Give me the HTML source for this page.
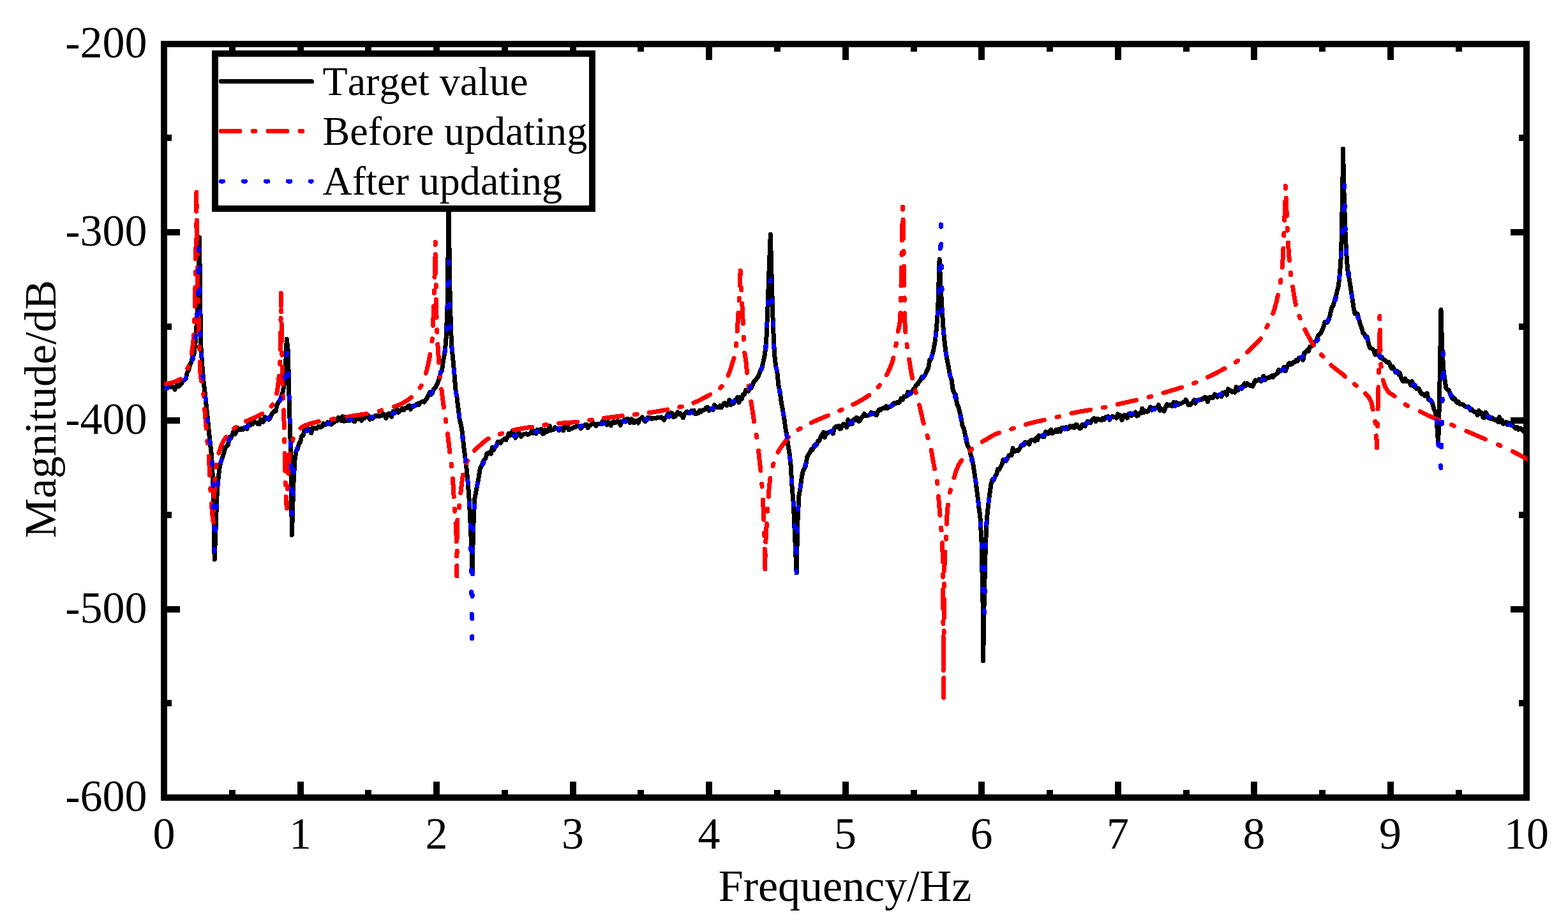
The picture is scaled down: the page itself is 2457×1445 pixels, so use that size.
<!DOCTYPE html>
<html lang="en">
<head>
<meta charset="utf-8">
<title>Magnitude/dB vs Frequency/Hz</title>
<style>
html,body{margin:0;padding:0;background:#fff;}
body{width:2457px;height:1445px;overflow:hidden;}
svg{display:block;}
text{font-family:"Liberation Serif","Times New Roman",Times,serif;font-size:70px;fill:#000;font-kerning:none;}
.lg text{font-size:64.1px;}
.c{fill:none;stroke-width:7;stroke-linecap:round;stroke-linejoin:round;}
</style>
</head>
<body>
<svg width="2457" height="1445" viewBox="0 0 2457 1445">
<defs><clipPath id="cp"><rect x="257" y="60" width="2136.5" height="1200"/></clipPath></defs>
<rect x="0" y="0" width="2457" height="1445" fill="#fff"/>
<g shape-rendering="crispEdges" fill="#000">
<path fill-rule="evenodd" d="M252 64H2397V1255H252Z M262 74V1245H2387V74Z"/>
<rect x="359" y="1238" width="10" height="8"/>
<rect x="359" y="73" width="10" height="8"/>
<rect x="466" y="1225" width="10" height="21"/>
<rect x="466" y="73" width="10" height="21"/>
<rect x="572" y="1238" width="10" height="8"/>
<rect x="572" y="73" width="10" height="8"/>
<rect x="679" y="1225" width="10" height="21"/>
<rect x="679" y="73" width="10" height="21"/>
<rect x="786" y="1238" width="10" height="8"/>
<rect x="786" y="73" width="10" height="8"/>
<rect x="893" y="1225" width="10" height="21"/>
<rect x="893" y="73" width="10" height="21"/>
<rect x="999" y="1238" width="10" height="8"/>
<rect x="999" y="73" width="10" height="8"/>
<rect x="1106" y="1225" width="10" height="21"/>
<rect x="1106" y="73" width="10" height="21"/>
<rect x="1213" y="1238" width="10" height="8"/>
<rect x="1213" y="73" width="10" height="8"/>
<rect x="1320" y="1225" width="10" height="21"/>
<rect x="1320" y="73" width="10" height="21"/>
<rect x="1427" y="1238" width="10" height="8"/>
<rect x="1427" y="73" width="10" height="8"/>
<rect x="1533" y="1225" width="10" height="21"/>
<rect x="1533" y="73" width="10" height="21"/>
<rect x="1640" y="1238" width="10" height="8"/>
<rect x="1640" y="73" width="10" height="8"/>
<rect x="1747" y="1225" width="10" height="21"/>
<rect x="1747" y="73" width="10" height="21"/>
<rect x="1854" y="1238" width="10" height="8"/>
<rect x="1854" y="73" width="10" height="8"/>
<rect x="1960" y="1225" width="10" height="21"/>
<rect x="1960" y="73" width="10" height="21"/>
<rect x="2067" y="1238" width="10" height="8"/>
<rect x="2067" y="73" width="10" height="8"/>
<rect x="2174" y="1225" width="10" height="21"/>
<rect x="2174" y="73" width="10" height="21"/>
<rect x="2281" y="1238" width="10" height="8"/>
<rect x="2281" y="73" width="10" height="8"/>
<rect x="261" y="211" width="8" height="10"/>
<rect x="2380" y="211" width="8" height="10"/>
<rect x="261" y="359" width="21" height="10"/>
<rect x="2367" y="359" width="21" height="10"/>
<rect x="261" y="507" width="8" height="10"/>
<rect x="2380" y="507" width="8" height="10"/>
<rect x="261" y="654" width="21" height="10"/>
<rect x="2367" y="654" width="21" height="10"/>
<rect x="261" y="802" width="8" height="10"/>
<rect x="2380" y="802" width="8" height="10"/>
<rect x="261" y="950" width="21" height="10"/>
<rect x="2367" y="950" width="21" height="10"/>
<rect x="261" y="1097" width="8" height="10"/>
<rect x="2380" y="1097" width="8" height="10"/>
</g>
<g>
<text x="257" y="1329.5" text-anchor="middle">0</text>
<text x="470.5" y="1329.5" text-anchor="middle">1</text>
<text x="684" y="1329.5" text-anchor="middle">2</text>
<text x="897.5" y="1329.5" text-anchor="middle">3</text>
<text x="1111" y="1329.5" text-anchor="middle">4</text>
<text x="1324.5" y="1329.5" text-anchor="middle">5</text>
<text x="1538" y="1329.5" text-anchor="middle">6</text>
<text x="1751.5" y="1329.5" text-anchor="middle">7</text>
<text x="1965" y="1329.5" text-anchor="middle">8</text>
<text x="2178.5" y="1329.5" text-anchor="middle">9</text>
<text x="2392" y="1329.5" text-anchor="middle">10</text>
<text x="230.5" y="89.7" text-anchor="end">-200</text>
<text x="230.5" y="384.9" text-anchor="end">-300</text>
<text x="230.5" y="680.2" text-anchor="end">-400</text>
<text x="230.5" y="975.5" text-anchor="end">-500</text>
<text x="230.5" y="1270.7" text-anchor="end">-600</text>
<text x="1324" y="1412" text-anchor="middle">Frequency/Hz</text>
<text transform="translate(87 641) rotate(-90)" text-anchor="middle">Magnitude/dB</text>
</g>
<g clip-path="url(#cp)" shape-rendering="crispEdges">
<path class="c" stroke="#000" d="M257 608.3 L259.1 608.3 L261.3 609 L263.4 607.4 L265.5 605.7 L267.7 606.6 L269.8 605 L271.9 607.4 L274.1 610.4 L276.2 605 L278.4 603.6 L280.5 605.3 L282.6 603.4 L284.8 600.9 L286.9 596.2 L289 595.9 L291.2 593.8 L293.3 583.7 L295.4 580.9 L297.6 572 L299.7 567.8 L301.8 559.3 L304 554.8 L306.1 536.8 L308.2 508.5 L310.4 459.6 L312.5 372 L314.6 538.7 L316.8 572.6 L318.9 597.8 L321.1 615.1 L323.2 635.2 L325.3 654.6 L327.5 678.1 L329.6 696.6 L331.7 715.5 L333.9 757.9 L336.2 877 L338.1 826.9 L340.3 769.3 L342.4 746.7 L344.5 730.1 L346.7 722.3 L348.8 716 L350.9 709.7 L353.1 701 L355.2 699.4 L357.3 697.5 L359.5 685.1 L361.6 687.3 L363.8 681.7 L365.9 676.4 L368 680.9 L370.2 676.4 L372.3 670.5 L374.4 673.1 L376.6 673.9 L378.7 671.4 L380.8 673 L383 670.2 L385.1 671.1 L387.2 672.1 L389.4 665.4 L391.5 666.7 L393.6 664 L395.8 664.8 L397.9 660.8 L400 661.9 L402.2 662.4 L404.3 664.7 L406.4 664.8 L408.6 657.7 L410.7 658.3 L412.9 661.2 L415 653.4 L417.1 656.2 L419.3 655.8 L421.4 657.6 L423.5 654.2 L425.7 649.3 L427.8 646.7 L429.9 643.9 L432.1 644.3 L434.2 634.4 L436.3 630.2 L438.5 627.8 L440.6 622.1 L442.7 615.9 L444.9 604.7 L447 586.4 L449.3 531.5 L451.3 550.2 L453.4 636.5 L455.6 705.9 L457.4 838.5 L459.8 760.1 L462 720.5 L464.1 706.6 L466.2 703.8 L468.4 695.8 L470.5 693 L472.6 683.4 L474.8 683.1 L476.9 674.2 L479 671.3 L481.2 674.6 L483.3 672.1 L485.4 674.1 L487.6 678.8 L489.7 670.2 L491.8 670 L494 671.4 L496.1 671.4 L498.3 668.9 L500.4 668.1 L502.5 669.7 L504.7 668.5 L506.8 663.8 L508.9 665.6 L511.1 665.3 L513.2 661.8 L515.3 664.6 L517.5 661 L519.6 665.1 L521.7 662.5 L523.9 661.5 L526 659.2 L528.1 659.8 L530.3 654.3 L532.4 656.1 L534.5 659.5 L536.7 652.7 L538.8 660.1 L541 653.1 L543.1 659.5 L545.2 655.2 L547.4 659.3 L549.5 657.5 L551.6 653.1 L553.8 660.3 L555.9 660.7 L558 656.7 L560.2 656.1 L562.3 656.3 L564.4 654.1 L566.6 659.3 L568.7 654.9 L570.8 655.8 L573 653.5 L575.1 653.4 L577.2 651.2 L579.4 657.4 L581.5 653.4 L583.7 656.1 L585.8 653.4 L587.9 651.3 L590.1 652.1 L592.2 651.4 L594.3 652.7 L596.5 651.5 L598.6 651.5 L600.7 648.5 L602.9 649.8 L605 655.9 L607.1 649.5 L609.3 648.1 L611.4 651.2 L613.5 653.2 L615.7 644.9 L617.8 647.2 L620 645 L622.1 641.1 L624.2 646.6 L626.4 643.7 L628.5 643.1 L630.6 640.1 L632.8 642.6 L634.9 639.3 L637 639.7 L639.2 636.6 L641.3 635.6 L643.4 641.6 L645.6 636.1 L647.7 637.5 L649.8 635.9 L652 634 L654.1 632.8 L656.2 634.8 L658.4 631.1 L660.5 630.1 L662.6 628.9 L664.8 630.1 L666.9 626.9 L669.1 624 L671.2 619.4 L673.3 615 L675.5 618.5 L677.6 615.7 L679.7 609.6 L681.9 607.9 L684 604.3 L686.1 599.2 L688.3 593.3 L690.4 583.2 L692.5 580.8 L694.7 563.7 L696.8 554.5 L698.9 533.5 L701.1 479.4 L703 320 L705.3 475 L707.5 540.8 L709.6 560.8 L711.8 584.3 L713.9 610.5 L716 623 L718.2 641.1 L720.3 658.1 L722.4 665.9 L724.6 678.7 L726.7 700 L728.8 716 L731 733.9 L733.1 755.4 L735.2 783.5 L737.4 826.1 L739.5 876 L740 897 L741.6 829.6 L743.8 781.3 L745.9 770.8 L748 759.6 L750.2 748.1 L752.3 734.2 L754.5 729.8 L756.6 724.9 L758.7 720.9 L760.9 718.4 L763 710.8 L765.1 710.7 L767.3 708.6 L769.4 711.4 L771.5 701 L773.7 705.2 L775.8 700.5 L777.9 698.3 L780.1 692.2 L782.2 692.8 L784.3 694.3 L786.5 690.6 L788.6 689.5 L790.8 687.2 L792.9 689.8 L795 685.7 L797.2 679.1 L799.3 682.5 L801.4 678.6 L803.6 674.9 L805.7 681.6 L807.8 686.2 L810 682.5 L812.1 679.1 L814.2 679.3 L816.4 684.3 L818.5 681.4 L820.6 680.7 L822.8 680 L824.9 679.8 L827 681.3 L829.2 680.2 L831.3 678.9 L833.4 675.2 L835.6 678.9 L837.7 675.5 L839.9 679.8 L842 673.3 L844.1 676 L846.3 676.1 L848.4 672.4 L850.5 680 L852.7 679.1 L854.8 673.8 L856.9 676.7 L859.1 675.4 L861.2 667.3 L863.3 674.4 L865.5 673.3 L867.6 673.3 L869.7 669.9 L871.9 671.7 L874 671.6 L876.1 674.8 L878.3 672.3 L880.4 671.1 L882.6 674.8 L884.7 669.1 L886.8 669.3 L889 665.4 L891.1 674 L893.2 672.2 L895.4 671.9 L897.5 671 L899.6 669.3 L901.8 669.4 L903.9 667.9 L906 667.8 L908.2 668.2 L910.3 671.7 L912.4 669 L914.6 667.2 L916.7 665.6 L918.8 665.2 L921 670.7 L923.1 667.7 L925.3 666.3 L927.4 665 L929.5 662.8 L931.7 665.3 L933.8 667.5 L935.9 664 L938.1 664.3 L940.2 664.1 L942.3 664.7 L944.5 660.1 L946.6 663.4 L948.7 661.6 L950.9 665.9 L953 661.4 L955.1 664.6 L957.3 666.9 L959.4 661.8 L961.5 660.8 L963.7 662.6 L965.8 661.9 L968 659 L970.1 662.6 L972.2 666.3 L974.4 660.2 L976.5 660.1 L978.6 657.6 L980.8 660.9 L982.9 656.6 L985 656.7 L987.2 662.6 L989.3 656.7 L991.4 661.7 L993.6 662.6 L995.7 659.1 L997.8 659.6 L1000 663.1 L1002.1 657.3 L1004.2 656 L1006.4 653.9 L1008.5 657.3 L1010.7 660.8 L1012.8 659.2 L1014.9 654.1 L1017.1 654.1 L1019.2 654.8 L1021.3 656.6 L1023.5 655.1 L1025.6 655.9 L1027.7 655.9 L1029.9 654.1 L1032 654.5 L1034.1 654.8 L1036.3 653.8 L1038.4 655 L1040.5 658.3 L1042.7 654.7 L1044.8 653 L1046.9 648.1 L1049.1 653.2 L1051.2 646.8 L1053.4 647.9 L1055.5 653.5 L1057.6 652.8 L1059.8 650.2 L1061.9 645.9 L1064 649 L1066.2 647.9 L1068.3 651 L1070.4 654.9 L1072.6 649.3 L1074.7 646.3 L1076.8 645 L1079 647.6 L1081.1 646.9 L1083.2 644 L1085.4 646.9 L1087.5 643.3 L1089.6 648.8 L1091.8 648.2 L1093.9 647.9 L1096.1 643.4 L1098.2 645.6 L1100.3 643.4 L1102.5 642.3 L1104.6 642 L1106.7 639 L1108.9 638.2 L1111 643.5 L1113.1 640.4 L1115.3 640.9 L1117.4 642.4 L1119.5 634.8 L1121.7 636.7 L1123.8 638.6 L1125.9 638.5 L1128.1 635.9 L1130.2 638.9 L1132.3 636.1 L1134.5 631.8 L1136.6 631.8 L1138.8 635.5 L1140.9 633.9 L1143 626.9 L1145.2 634.5 L1147.3 631.6 L1149.4 632.6 L1151.6 627.1 L1153.7 626.2 L1155.8 622.8 L1158 631 L1160.1 622.6 L1162.2 625.6 L1164.4 618.1 L1166.5 618.2 L1168.6 611.2 L1170.8 612.1 L1172.9 613.1 L1175 604.7 L1177.2 608.1 L1179.3 603.7 L1181.5 597.6 L1183.6 596.2 L1185.7 593.2 L1187.9 590.7 L1190 585.2 L1192.1 579.5 L1194.3 574.9 L1196.4 565.4 L1198.5 554.8 L1200.7 535.6 L1202.8 486.9 L1204.9 428.2 L1207.3 367.3 L1209.2 436.7 L1211.3 508.1 L1213.5 554.8 L1215.6 573.7 L1217.8 583.1 L1219.9 604.1 L1222 613.4 L1224.2 629.9 L1226.3 641.2 L1228.4 653 L1230.6 669.7 L1232.7 681.4 L1234.8 697.2 L1237 710.5 L1239.1 729.3 L1241.2 764.8 L1243.4 790.1 L1245.5 838.6 L1247.6 886.4 L1248.1 898 L1249.8 819.1 L1251.9 777.4 L1254 765.3 L1256.2 748.7 L1258.3 737.8 L1260.4 734.2 L1262.6 729.6 L1264.7 716.5 L1266.9 712.5 L1269 709 L1271.1 704.3 L1273.3 705.1 L1275.4 699.2 L1277.5 696.7 L1279.7 697.4 L1281.8 690.9 L1283.9 690.8 L1286.1 684.2 L1288.2 681 L1290.3 677.6 L1292.5 685.7 L1294.6 678.7 L1296.7 679.1 L1298.9 677.3 L1301 676.8 L1303.1 675.6 L1305.3 679.5 L1307.4 670.9 L1309.6 668.7 L1311.7 669.2 L1313.8 667.6 L1316 672.2 L1318.1 671.6 L1320.2 666.2 L1322.4 664.3 L1324.5 666.1 L1326.6 669.7 L1328.8 657.8 L1330.9 665.4 L1333 660.1 L1335.2 664.5 L1337.3 657.8 L1339.4 658.8 L1341.6 654.7 L1343.7 655.1 L1345.8 660.4 L1348 658.1 L1350.1 654 L1352.3 652 L1354.4 648.5 L1356.5 651.6 L1358.7 651.7 L1360.8 650.8 L1362.9 649.9 L1365.1 646.4 L1367.2 648.3 L1369.3 647.5 L1371.5 650.1 L1373.6 650.6 L1375.7 644.5 L1377.9 641.9 L1380 642.8 L1382.1 640.5 L1384.3 639.2 L1386.4 640 L1388.5 636.6 L1390.7 640 L1392.8 637.3 L1395 637.4 L1397.1 635.4 L1399.2 633.1 L1401.4 631.7 L1403.5 632.5 L1405.6 630.7 L1407.8 631.5 L1409.9 629.6 L1412 624.6 L1414.2 626.8 L1416.3 621.5 L1418.4 621.8 L1420.6 620.9 L1422.7 614.4 L1424.8 618.2 L1427 616.5 L1429.1 613.6 L1431.2 610.7 L1433.4 608.4 L1435.5 603.9 L1437.7 602.5 L1439.8 598.3 L1441.9 596.9 L1444.1 590.9 L1446.2 592.3 L1448.3 589.5 L1450.5 585.7 L1452.6 580.7 L1454.7 576.8 L1456.9 563.8 L1459 562.7 L1461.1 555.1 L1463.3 545.8 L1465.4 534 L1467.5 513.8 L1469.7 484.8 L1472.1 406.5 L1473.9 445.9 L1476.1 483.5 L1478.2 516.1 L1480.4 538.4 L1482.5 555.5 L1484.6 566.2 L1486.8 578 L1488.9 589 L1491 595.2 L1493.2 610.9 L1495.3 616.4 L1497.4 618.2 L1499.6 633.8 L1501.7 636.9 L1503.8 645.3 L1506 654.8 L1508.1 667.6 L1510.2 671.3 L1512.4 680.9 L1514.5 692.4 L1516.6 699.1 L1518.8 702.5 L1520.9 711.9 L1523.1 719.2 L1525.2 729.7 L1527.3 744 L1529.5 759.4 L1531.6 775.6 L1533.7 794 L1535.9 810 L1538 849 L1540.1 948.4 L1540.6 1036 L1542.3 933.5 L1544.4 854.7 L1546.5 812.3 L1548.7 790.3 L1550.8 774.2 L1552.9 759.2 L1555.1 751.2 L1557.2 752.3 L1559.3 746.4 L1561.5 743.6 L1563.6 735.1 L1565.8 735.5 L1567.9 731.6 L1570 727.4 L1572.2 720.2 L1574.3 721.9 L1576.4 722.5 L1578.6 718.7 L1580.7 714 L1582.8 713.5 L1585 713.5 L1587.1 702.5 L1589.2 707.4 L1591.4 707.1 L1593.5 705.5 L1595.6 706.2 L1597.8 702.9 L1599.9 699 L1602 697.5 L1604.2 697.5 L1606.3 692.9 L1608.5 693.2 L1610.6 694.7 L1612.7 696.5 L1614.9 690.1 L1617 689.5 L1619.1 689.2 L1621.3 691.3 L1623.4 686.8 L1625.5 689.8 L1627.7 682.6 L1629.8 683.7 L1631.9 682.8 L1634.1 684.5 L1636.2 684.4 L1638.3 676.8 L1640.5 677.5 L1642.6 679.8 L1644.7 676.4 L1646.9 673.3 L1649 679.1 L1651.2 677 L1653.3 676.3 L1655.4 673.2 L1657.6 676.7 L1659.7 672.9 L1661.8 676 L1664 670.4 L1666.1 670.1 L1668.2 672.4 L1670.4 669.6 L1672.5 672.6 L1674.6 671 L1676.8 667.4 L1678.9 669.4 L1681 667.7 L1683.2 670.4 L1685.3 665.7 L1687.4 665.7 L1689.6 669.5 L1691.7 671.6 L1693.9 670.5 L1696 665 L1698.1 665 L1700.3 667.9 L1702.4 663.1 L1704.5 660.3 L1706.7 662.6 L1708.8 662.8 L1710.9 658.8 L1713.1 656 L1715.2 655.8 L1717.3 660.7 L1719.5 656.4 L1721.6 657.4 L1723.7 657.9 L1725.9 658.6 L1728 655.7 L1730.1 657.6 L1732.3 653.7 L1734.4 654.7 L1736.6 652.7 L1738.7 658 L1740.8 654.6 L1743 652.5 L1745.1 653.2 L1747.2 653.2 L1749.4 655.2 L1751.5 648.9 L1753.6 650 L1755.8 651.3 L1757.9 658.4 L1760 653.8 L1762.2 650.5 L1764.3 652.1 L1766.4 655.1 L1768.6 648.6 L1770.7 647.8 L1772.8 651.5 L1775 649.3 L1777.1 649.4 L1779.3 646 L1781.4 652 L1783.5 651.1 L1785.7 647.7 L1787.8 647.6 L1789.9 640.2 L1792.1 646.6 L1794.2 643.9 L1796.3 645 L1798.5 645.1 L1800.6 641.9 L1802.7 637.9 L1804.9 642.9 L1807 639.6 L1809.1 640.4 L1811.3 639.4 L1813.4 639.9 L1815.5 634.5 L1817.7 643.5 L1819.8 640.7 L1822 642.6 L1824.1 644.5 L1826.2 639 L1828.4 633.8 L1830.5 635.7 L1832.6 634.3 L1834.8 635.6 L1836.9 636.6 L1839 630.6 L1841.2 636.2 L1843.3 630.8 L1845.4 634.9 L1847.6 633.2 L1849.7 632 L1851.8 632.1 L1854 630.3 L1856.1 629.7 L1858.2 626.5 L1860.4 630.4 L1862.5 634.9 L1864.7 634.9 L1866.8 632.9 L1868.9 631 L1871.1 627 L1873.2 632.1 L1875.3 627.8 L1877.5 627.3 L1879.6 626.3 L1881.7 626.8 L1883.9 624.9 L1886 625.3 L1888.1 622.2 L1890.3 623.5 L1892.4 629.8 L1894.5 623.2 L1896.7 622.1 L1898.8 623.5 L1900.9 623.4 L1903.1 618 L1905.2 619.8 L1907.4 622.1 L1909.5 619.7 L1911.6 618.7 L1913.8 621.8 L1915.9 615.4 L1918 616.7 L1920.2 614.5 L1922.3 619.1 L1924.4 609.5 L1926.6 612.2 L1928.7 611.9 L1930.8 614.4 L1933 613.6 L1935.1 615 L1937.2 606.6 L1939.4 611.9 L1941.5 608.5 L1943.6 606.9 L1945.8 609.3 L1947.9 604.8 L1950.1 601 L1952.2 604.7 L1954.3 601 L1956.5 602.4 L1958.6 604.3 L1960.7 603.3 L1962.9 605.8 L1965 600.3 L1967.1 596 L1969.3 597.2 L1971.4 595.9 L1973.5 594.2 L1975.7 597.6 L1977.8 593.9 L1979.9 589.5 L1982.1 595.6 L1984.2 592.5 L1986.3 592.8 L1988.5 591.1 L1990.6 591.5 L1992.8 589 L1994.9 591 L1997 587.9 L1999.2 586.7 L2001.3 585.7 L2003.4 579.7 L2005.6 581.9 L2007.7 580.5 L2009.8 580.5 L2012 575.2 L2014.1 581.7 L2016.2 576.4 L2018.4 571.7 L2020.5 569 L2022.6 571.3 L2024.8 570.4 L2026.9 567.3 L2029 567.9 L2031.2 564.4 L2033.3 565.9 L2035.5 560.9 L2037.6 560.9 L2039.7 561.8 L2041.9 564 L2044 552.7 L2046.1 551.9 L2048.3 548.7 L2050.4 550.6 L2052.5 543.3 L2054.7 542.8 L2056.8 541.8 L2058.9 537.2 L2061.1 534.9 L2063.2 533.5 L2065.3 526.3 L2067.5 524 L2069.6 521.6 L2071.8 517.8 L2073.9 512.4 L2076 504.7 L2078.2 505.1 L2080.3 505.1 L2082.4 500.2 L2084.6 491.8 L2086.7 482 L2088.8 480 L2091 472.2 L2093.1 465.2 L2095.2 456.3 L2097.4 448.2 L2099.5 427.9 L2101.6 398.4 L2103.8 295.7 L2104.5 233.3 L2105.9 298.1 L2108 363.8 L2110.2 404.9 L2112.3 427.7 L2114.4 438 L2116.6 452.4 L2118.7 465.7 L2120.9 481.6 L2123 491.4 L2125.1 491.4 L2127.3 492 L2129.4 500.9 L2131.5 507.9 L2133.7 514 L2135.8 521.9 L2137.9 523.6 L2140.1 528.9 L2142.2 528 L2144.3 537.7 L2146.5 545.4 L2148.6 545.8 L2150.7 547.4 L2152.9 549.6 L2155 556 L2157.1 550.9 L2159.3 555 L2161.4 558.3 L2163.6 561.1 L2165.7 559.9 L2167.8 563.8 L2170 564.1 L2172.1 567 L2174.2 568.2 L2176.4 567.6 L2178.5 572.7 L2180.6 577.3 L2182.8 574.9 L2184.9 579.2 L2187 583.7 L2189.2 581.2 L2191.3 586.4 L2193.4 584.9 L2195.6 592.3 L2197.7 597 L2199.8 597.9 L2202 593.6 L2204.1 597.6 L2206.3 597.5 L2208.4 598.8 L2210.5 603.8 L2212.7 597.5 L2214.8 605 L2216.9 603.6 L2219.1 609.2 L2221.2 608.5 L2223.3 609 L2225.5 614.1 L2227.6 617.5 L2229.7 617.4 L2231.9 620.1 L2234 618.9 L2236.1 616.2 L2238.3 625.9 L2240.4 627.5 L2242.5 628.7 L2244.7 632.2 L2246.8 641.1 L2249 645.1 L2251.1 656.9 L2253.2 688.5 L2253.7 694 L2255.4 632.7 L2257.5 513.7 L2258 485.3 L2259.6 541.4 L2261.8 578.5 L2263.9 594.8 L2266 609.1 L2268.2 610.9 L2270.3 611.6 L2272.4 616.8 L2274.6 622.6 L2276.7 625.6 L2278.8 623.8 L2281 628.2 L2283.1 631 L2285.2 629.2 L2287.4 633.3 L2289.5 633.7 L2291.7 633.6 L2293.8 634.8 L2295.9 637.2 L2298.1 637.9 L2300.2 637.1 L2302.3 638.2 L2304.5 643 L2306.6 641.6 L2308.7 644.2 L2310.9 646 L2313 645.3 L2315.1 650.7 L2317.3 643.6 L2319.4 648.9 L2321.5 647.1 L2323.7 653.9 L2325.8 654.6 L2327.9 646.1 L2330.1 649.6 L2332.2 654.6 L2334.4 655.7 L2336.5 656.3 L2338.6 655 L2340.8 657.2 L2342.9 658.5 L2345 657.5 L2347.2 661.2 L2349.3 653.5 L2351.4 661.9 L2353.6 658.4 L2355.7 664.4 L2357.8 662.2 L2360 661.3 L2362.1 665.4 L2364.2 662.8 L2366.4 663.6 L2368.5 662.7 L2370.6 667.5 L2372.8 669.6 L2374.9 671.7 L2377.1 669.4 L2379.2 673.2 L2381.3 671.3 L2383.5 671.7 L2385.6 674.2 L2387.7 676.2 L2389.9 673.4 L2392 674.4 L2394 675.7"/>
<path class="c" stroke="#f00" stroke-width="7.4" stroke-dasharray="30.26 20.17 3.93 20.17" stroke-dashoffset="3.23" d="M257 601.6 L258 601.6 L259 601.6 L260 601.5 L261 601.4 L262 601.3 L263 601.2 L264 601 L265 600.8 L266 600.6 L267 600.4 L268 600.2 L269 599.9 L270 599.6 L271 599.3 L272 598.9 L273 598.6 L274 598.2 L275 597.8 L276 597.4 L277 597 L278 596.5 L279 596 L280 595.5 L281 595 L282 594.5 L283 593.9 L284 593.4 L284.6 593 L285 592.7 L286 591.9 L287 590.8 L288 589.4 L289 587.8 L290 586 L291 584 L292 581.9 L293 579.6 L294 577.1 L295 574.6 L296 571.8 L297 568.5 L298 564.7 L299 560.4 L300 555.3 L301 549.5 L301.2 548.3 L302 542.8 L303 533.5 L304 520 L305 492.9 L306 450 L307 387.2 L308 301"/>
<path class="c" stroke="#f00" stroke-width="7.4" stroke-dasharray="30.1 20.07 3.91 20.07" stroke-dashoffset="30.1" d="M308 301 L309 383.2 L310 447.6 L310 450 L310.9 493.5 L311.9 529.9 L312.3 542.8 L312.9 562.2 L313.7 581.5 L313.9 583.5 L314.8 592.7 L315.8 598.8 L316.8 603.7 L317.8 609.2 L318.5 614.8 L318.8 617.2 L319.7 628.3 L320.7 640.7 L321.3 648 L321.7 652.7 L322.7 664.8 L323.6 676.9 L324.6 688.6 L324.7 689.5 L325.6 698.9 L326.6 708.7 L327.5 720 L327.6 720.8 L328.5 739.6 L329.5 759.9 L329.6 761.5 L330.5 776.5 L331.5 791.5 L332.4 803 L332.4 803.5 L333.4 812.4 L334.4 819"/>
<path class="c" stroke="#f00" stroke-width="7.4" stroke-dasharray="27.82 18.54 3.62 18.54" stroke-dashoffset="27.82" d="M334.4 819 L335.4 785.9 L335.8 775 L336.4 760 L337.2 745 L337.4 742.6 L338.4 732.9 L339.4 726 L340 722.7 L340.4 720.7 L341.4 716.1 L342.4 712 L343.4 708.3 L344.4 705 L345.4 702 L346.4 699.4 L347.4 697 L348.3 695 L348.4 694.8 L349.4 692.8 L350.4 690.9 L351.4 689.1 L352.4 687.5 L353.4 685.9 L354.4 684.5 L355.4 683.1 L356.4 681.9 L357.4 680.6 L358.4 679.5 L359.4 678.4 L360.4 677.3 L361.4 676.3 L362.4 675.4 L363.4 674.4 L364.4 673.5 L365.4 672.7 L366.4 671.8 L367.4 671 L368.4 670.3 L369.4 669.5 L370.4 668.8 L371.4 668.1 L372.4 667.4 L373.4 666.8 L374.4 666.1 L374.6 666 L375.4 665.5 L376.4 664.9 L377.4 664.3 L378.4 663.8 L379.4 663.2 L380.4 662.7 L381.4 662.2 L382.4 661.7 L383.4 661.2 L384.4 660.8 L385.4 660.3 L386.4 659.8 L387.4 659.4 L388.4 659 L389.4 658.5 L390.4 658.1 L391.4 657.7 L392.4 657.2 L393.4 656.8 L394.4 656.4 L395.4 656 L396.4 655.5 L397.4 655.1 L398.4 654.6 L399.4 654.2 L400.4 653.7 L401.4 653.3 L402.4 652.8 L403.4 652.3 L404.4 651.8 L405.4 651.2 L406.4 650.7 L407.4 650.2 L408.4 649.6 L409.4 649.1 L410.4 648.6 L411.4 648.1 L412.4 647.6 L413.4 647.1 L414.4 646.5 L415.4 645.9 L416.4 645.3 L417.4 644.6 L418.4 643.9 L419.4 643.1 L420.4 642.2 L421 641.7 L421.4 641.3 L422.4 640.3 L423.4 639.2 L424.4 637.9 L425.4 636.5 L426.4 635 L427.4 633.2 L428.4 631.3 L429.4 629.2 L430.4 626.8 L431.4 624.1 L432.4 621.2 L432.7 620.3 L433.4 617.7 L434.4 612.5 L435.4 605.7 L436.4 597.3 L436.9 592.6 L437.4 587.8 L438.4 575.6 L439.4 553.3 L439.6 546.9 L440.4 459.5"/>
<path class="c" stroke="#f00" stroke-width="7.4" stroke-dasharray="27.54 18.36 3.58 18.36" stroke-dashoffset="20.2" d="M440.4 459.5 L441.4 528.4 L442.4 580.5 L442.4 581.5 L443.4 615.8 L443.8 628.6 L444.4 642.2 L445.2 664.6 L445.3 671 L445.9 702 L446.3 720.4 L447.3 755.1 L447.5 760 L448.3 779.8 L449.3 797"/>
<path class="c" stroke="#f00" stroke-width="7.4" stroke-dasharray="30.73 20.49 4 20.49" stroke-dashoffset="20.79" d="M449.3 797 L450.3 774.8 L451.3 754 L451.5 750 L452.3 732.7 L453.3 714.9 L453.5 713 L454.3 707.5 L455.3 701.7 L456.3 697 L457.3 693.2 L458.3 690.2 L459.3 687.7 L460.3 685.6 L460.4 685.4 L461.3 683.7 L462.3 682 L463.3 680.3 L464.3 678.8 L465.3 677.4 L466.3 676 L467.3 674.8 L468.3 673.6 L469.3 672.6 L470.3 671.6 L471.3 670.8 L472.3 670 L473.3 669.3 L474.3 668.7 L475.3 668.2 L475.6 668 L476.3 667.7 L477.3 667.2 L478.3 666.8 L479.3 666.4 L480.3 666 L481.3 665.6 L482.3 665.2 L483.3 664.9 L484.3 664.5 L485.3 664.2 L486.3 663.9 L487.3 663.6 L488.3 663.3 L489.3 663 L490.3 662.7 L491.3 662.5 L492.3 662.2 L493.3 662 L494.3 661.8 L495.3 661.5 L496.3 661.3 L497.3 661.1 L498.3 660.9 L499.3 660.7 L500.3 660.5 L501.3 660.3 L502.3 660.1 L503.3 659.9 L504.3 659.7 L505.3 659.6 L506.3 659.4 L507.3 659.2 L508.3 659 L509.3 658.8 L510.3 658.6 L511.3 658.5 L511.6 658.4 L512.3 658.3 L513.3 658.1 L514.3 657.9 L515.3 657.8 L516.3 657.6 L517.3 657.5 L518.3 657.3 L519.3 657.2 L520.3 657 L521.3 656.9 L522.3 656.7 L523.3 656.6 L524.3 656.5 L525.3 656.3 L526.3 656.2 L527.3 656.1 L528.3 655.9 L529.3 655.8 L530.3 655.6 L530.3 655.6 L531.3 655.4 L532.3 655.3 L533.3 655.1 L534.3 655 L535.3 654.8 L536.3 654.6 L537.3 654.5 L538.3 654.3 L539.3 654.1 L540.3 654 L541.3 653.8 L542.3 653.6 L543.3 653.5 L544.3 653.3 L545.3 653.1 L546.3 653 L547.3 652.8 L548.3 652.6 L549.3 652.4 L550.3 652.3 L551.3 652.1 L552.3 651.9 L553.3 651.8 L554.3 651.6 L555.3 651.4 L556.3 651.3 L557.3 651.1 L558.3 650.9 L559.3 650.8 L560.3 650.6 L561.3 650.5 L562.3 650.3 L563.3 650.2 L564.3 650 L565.3 649.9 L566.2 649.7 L567.2 649.6 L568.2 649.4 L568.4 649.4 L569.2 649.3 L570.2 649.2 L571.2 649 L572.2 648.9 L573.2 648.8 L574.2 648.7 L575.2 648.6 L576.2 648.5 L577.2 648.4 L578.2 648.3 L579.2 648.2 L580.2 648 L581.2 647.9 L582.2 647.8 L583.2 647.6 L584.2 647.4 L585 647.3 L585.2 647.3 L586.2 647 L587.2 646.8 L588.2 646.5 L589.2 646.2 L590.2 645.9 L591.2 645.5 L592.2 645.2 L593.2 644.8 L594.2 644.4 L595.2 644 L596.2 643.6 L597.2 643.2 L598.2 642.8 L599.2 642.5 L600.2 642.1 L601.2 641.8 L602.1 641.5 L602.2 641.5 L603.2 641.2 L604.2 640.9 L605.2 640.6 L606.2 640.3 L607.2 640.1 L608.2 639.8 L609.2 639.6 L610.2 639.3 L611.2 639.1 L612.2 638.8 L613.2 638.6 L614.2 638.3 L615.2 638 L616.2 637.7 L617.2 637.4 L618.2 637.1 L619.2 636.8 L620.2 636.5 L621.2 636.1 L621.5 636 L622.2 635.7 L623.2 635.3 L624.2 634.9 L625.2 634.5 L626.2 634 L627.2 633.6 L628.2 633.1 L629.2 632.6 L630.2 632.1 L631.2 631.6 L632.2 631 L633.2 630.5 L634.2 629.9 L635.2 629.3 L636.2 628.6 L637.2 628 L638.2 627.3 L639.2 626.7 L640.2 626 L641.2 625.3 L642.2 624.5 L643.2 623.8 L644.2 623 L645.2 622.2 L646.2 621.4 L647.2 620.5 L647.8 620 L648.2 619.6 L649.2 618.7 L650.2 617.7 L651.2 616.7 L652.2 615.6 L653.2 614.5 L654.2 613.2 L655.2 611.9 L656.2 610.6 L657.2 609.1 L658.2 607.5 L659.2 605.9 L660.2 604.2 L661.2 602.3 L661.7 601.4 L662.2 600.4 L663.2 598 L664.2 595.4 L665.2 592.4 L666.2 589.2 L667.2 585.7 L668.2 582.1 L668.6 580.6 L669.2 578.3 L670.2 574.1 L671.2 569.6 L672.2 564.8 L673.2 559.5 L674.2 553.7 L674.8 550.1 L675.2 547.6 L676.2 541.1 L677.2 532.4 L677.6 528 L678.2 518.3 L679.2 493.7 L680 470 L680.2 463.6 L681.2 425.7 L682.2 379.5"/>
<path class="c" stroke="#f00" stroke-width="7.4" stroke-dasharray="28.64 19.1 3.72 19.1" stroke-dashoffset="51.46" d="M682.2 379.5 L683.2 452.2 L683.5 470 L684.2 503.4 L684.5 514.2 L685.2 529.3 L686.2 545.2 L686.6 551.5 L687.2 559.6 L688.1 572.9 L689.1 584.6 L689.4 587.5 L690.1 594.9 L691.1 604 L692.1 612.4 L692.1 612.5 L693.1 620.8 L694.1 628.8 L695.1 636.4 L695.6 640.1 L696.1 643.4 L697.1 649.8 L698.1 656.1 L699 662.3 L699 662.6 L700 669.7 L701 677 L701.8 683 L702 684.8 L703 693.2 L704 701.9 L704.6 707 L705 710.2 L706 717.7 L707 725.3 L708 734.3 L708 734.6 L709 745.7 L710 759.4 L710.8 772 L710.9 774.2 L711.9 791.4 L712.9 808 L712.9 808.4 L713.9 819.4 L714.9 835.9 L715 838.4 L715.5 880 L715.9 903"/>
<path class="c" stroke="#f00" stroke-width="7.4" stroke-dasharray="28.97 19.31 3.77 19.31" stroke-dashoffset="12.26" d="M715.9 903 L716.4 824.6 L716.9 815.3 L717.9 806 L718.9 800.1 L719.1 798.3 L719.9 790.6 L720.9 781.1 L721.9 772.1 L721.9 772 L722.9 763.4 L723.9 755 L724.9 748 L725.3 745.7 L725.9 742.9 L726.9 738.6 L727.9 734.7 L728.9 731.4 L729.9 728.4 L730.9 725.7 L731.6 724 L731.9 723.4 L732.9 721.2 L733.9 719.2 L734.9 717.4 L735.9 715.7 L736.9 714.1 L737.9 712.6 L738.9 711.2 L739.9 709.9 L740.6 709 L740.9 708.7 L741.9 707.6 L742.9 706.5 L743.9 705.5 L744.9 704.6 L745.9 703.7 L746.1 703.5 L746.9 702.8 L747.8 701.9 L748.8 701 L749.8 700.1 L750.8 699.1 L751.8 698.2 L752.8 697.3 L753.8 696.4 L754.8 695.5 L755.8 694.7 L756.8 693.8 L757.8 693 L758.8 692.1 L759.8 691.3 L760.8 690.6 L761.8 689.8 L762.8 689.1 L763.8 688.4 L764.8 687.8 L765.8 687.1 L766.8 686.6 L767.8 686 L768.3 685.8 L768.8 685.6 L769.8 685.1 L770.8 684.6 L771.8 684.2 L772.8 683.8 L773.8 683.4 L774.8 683 L775.8 682.7 L776.8 682.3 L777.8 682 L778.8 681.6 L779.8 681.3 L780.8 681 L781.8 680.7 L782.8 680.4 L783.8 680.1 L784.8 679.8 L785.8 679.5 L786.8 679.1 L787.6 678.9 L787.8 678.8 L788.8 678.5 L789.8 678.2 L790.8 677.9 L791.8 677.6 L792.8 677.3 L793.8 677 L794.8 676.7 L795.8 676.5 L796.8 676.2 L797.8 675.9 L798.8 675.6 L799.8 675.4 L800.8 675.1 L801.8 674.8 L802.8 674.6 L803.8 674.3 L804.8 674.1 L805.8 673.9 L806.8 673.6 L807.8 673.4 L808.4 673.3 L808.8 673.2 L809.8 673 L810.8 672.8 L811.7 672.6 L812.7 672.5 L813.7 672.3 L814.7 672.1 L815.7 671.9 L816.7 671.8 L817.7 671.6 L818.7 671.4 L819.7 671.3 L820.7 671.1 L821.7 670.9 L822.7 670.8 L823.7 670.6 L824.7 670.5 L825.7 670.3 L826.7 670.2 L827.7 670 L828.7 669.9 L829.7 669.8 L830.7 669.6 L831.7 669.5 L832.7 669.3 L833.7 669.2 L834.7 669 L835.7 668.9 L836.7 668.7 L837.7 668.6 L838.7 668.5 L839.7 668.3 L840.7 668.2 L841.7 668 L842.7 667.8 L843 667.8 L843.7 667.7 L844.7 667.5 L845.7 667.4 L846.7 667.2 L847.7 667 L848.7 666.9 L849.7 666.7 L850.7 666.5 L851.7 666.4 L852.7 666.2 L853.7 666 L854.7 665.9 L855.7 665.7 L856.7 665.6 L857.7 665.4 L858.7 665.3 L859.7 665.2 L860.7 665 L861 665 L861.7 664.9 L862.7 664.8 L863.7 664.7 L864.7 664.6 L865.7 664.5 L866.7 664.4 L867.7 664.3 L868.7 664.2 L869.7 664.1 L870.7 664 L871.7 663.9 L872.7 663.8 L873.7 663.7 L874.6 663.6 L875.6 663.5 L876.6 663.4 L877.6 663.3 L878.6 663.3 L879.6 663.2 L880.6 663.1 L881.6 663 L881.8 663 L882.6 662.9 L883.6 662.9 L884.6 662.8 L885.6 662.7 L886.6 662.6 L887.6 662.6 L888.6 662.5 L889.6 662.5 L890.6 662.4 L891.6 662.3 L892.6 662.3 L893.6 662.2 L894.6 662.1 L895.6 662.1 L896.6 662 L897.6 661.9 L898.6 661.8 L899.6 661.7 L900 661.7 L900.6 661.6 L901.6 661.5 L902.6 661.4 L903.6 661.3 L904.6 661.2 L905.6 661.1 L906.6 661 L907.6 660.9 L908.6 660.7 L909.6 660.6 L910.6 660.5 L911.6 660.3 L912.6 660.2 L913.6 660 L914.6 659.9 L915.6 659.7 L916.6 659.6 L917.6 659.4 L918.6 659.3 L919.6 659.1 L920.6 659 L921.6 658.8 L922.6 658.7 L923.6 658.5 L924.6 658.4 L925.6 658.2 L926.6 658.1 L927.6 657.9 L928.6 657.8 L929.6 657.6 L930.6 657.5 L931.6 657.3 L932.6 657.2 L933.6 657 L934.6 656.9 L934.6 656.9 L935.6 656.8 L936.6 656.6 L937.6 656.5 L938.5 656.4 L939.5 656.2 L940.5 656.1 L941.5 656 L942.5 655.8 L943.5 655.7 L944.5 655.6 L945.5 655.4 L946.5 655.3 L947.5 655.2 L948.5 655.1 L949.5 654.9 L950.5 654.8 L951.5 654.7 L952.5 654.5 L953.5 654.4 L954.5 654.3 L955.5 654.2 L956.5 654 L957.5 653.9 L958.5 653.8 L959.5 653.6 L960.5 653.5 L961.5 653.4 L962.5 653.3 L963.5 653.1 L964.5 653 L965.5 652.9 L966.5 652.8 L967.5 652.6 L968.5 652.5 L969.5 652.4 L970.5 652.3 L971.5 652.2 L972 652.1 L972.5 652 L973.5 651.9 L974.5 651.8 L975.5 651.7 L976.5 651.6 L977.5 651.5 L978.5 651.4 L979.5 651.2 L980.5 651.1 L981.5 651 L982.5 650.9 L983.5 650.8 L984.5 650.7 L985.5 650.6 L986.5 650.5 L987.5 650.4 L988.5 650.3 L989.5 650.2 L990.5 650.1 L991.5 650 L992.5 649.9 L993.5 649.8 L994.5 649.7 L995.5 649.6 L996.5 649.5 L997.5 649.3 L998.5 649.2 L999.5 649.1 L1000.5 649 L1001.5 648.9 L1002.4 648.8 L1003.4 648.7 L1004.4 648.5 L1005.4 648.4 L1006.4 648.3 L1007.4 648.2 L1008.4 648 L1009.4 647.9 L1009.4 647.9 L1010.4 647.8 L1011.4 647.6 L1012.4 647.5 L1013.4 647.3 L1014.4 647.2 L1015.4 647.1 L1016.4 646.9 L1017.4 646.8 L1018.4 646.6 L1019.4 646.5 L1020.4 646.3 L1021.4 646.2 L1022.4 646 L1023.4 645.8 L1024.4 645.7 L1025.4 645.5 L1026.4 645.4 L1027.4 645.2 L1028.4 645 L1029.4 644.9 L1030.4 644.7 L1031.4 644.5 L1032.4 644.4 L1033.4 644.2 L1034.4 644 L1035.4 643.8 L1036.4 643.6 L1037.4 643.5 L1038.4 643.3 L1039.4 643.1 L1040.4 642.9 L1041.4 642.7 L1042.4 642.5 L1043.4 642.3 L1044.4 642.2 L1045.4 642 L1046.4 641.8 L1046.7 641.7 L1047.4 641.6 L1048.4 641.4 L1049.4 641.2 L1050.4 641 L1051.4 640.8 L1052.4 640.6 L1053.4 640.4 L1054.4 640.2 L1055.4 640 L1056.4 639.8 L1057.4 639.5 L1058.4 639.3 L1059.4 639.1 L1060.4 638.9 L1061.4 638.7 L1062.4 638.5 L1063.4 638.2 L1064.4 638 L1065.3 637.8 L1066.3 637.5 L1067.3 637.3 L1068.3 637.1 L1069.3 636.8 L1070.3 636.5 L1071.3 636.3 L1072.3 636 L1073.3 635.8 L1074.3 635.5 L1075.3 635.2 L1076.3 634.9 L1077.3 634.6 L1078.3 634.3 L1079.3 634 L1080.3 633.7 L1081.3 633.4 L1081.3 633.4 L1082.3 633.1 L1083.3 632.7 L1084.3 632.4 L1085.3 632 L1086.3 631.6 L1087.3 631.2 L1088.3 630.8 L1089.3 630.4 L1090.3 629.9 L1091.3 629.5 L1092.3 629 L1093.3 628.6 L1094.3 628.1 L1095.3 627.6 L1096.3 627.1 L1097.3 626.6 L1098.3 626.1 L1099.3 625.6 L1100.3 625.1 L1101.3 624.5 L1102.3 624 L1103.3 623.5 L1104.3 622.9 L1105.3 622.4 L1106.3 621.9 L1107.3 621.3 L1108.3 620.8 L1109.3 620.2 L1110.3 619.7 L1111.3 619.1 L1112.3 618.6 L1113.2 618.1 L1113.3 618.1 L1114.3 617.5 L1115.3 617 L1116.3 616.5 L1117.3 616 L1118.3 615.5 L1119.3 614.9 L1120.3 614.4 L1121.3 613.8 L1122.3 613.2 L1123.3 612.6 L1124.3 611.9 L1125.3 611.2 L1126.3 610.4 L1127 609.8 L1127.3 609.6 L1128.3 608.7 L1129.2 607.6 L1130.2 606.5 L1131.2 605.3 L1132.2 603.9 L1133.2 602.5 L1134.2 601 L1135.2 599.4 L1136.2 597.8 L1137.2 596 L1138.2 594.2 L1139.2 592.3 L1139.5 591.8 L1140.2 590.3 L1141.2 588 L1142.2 585.4 L1143.2 582.7 L1144.2 579.7 L1145.2 576.6 L1146.2 573.5 L1147.2 570.2 L1147.8 568.3 L1148.2 567 L1149.2 563.9 L1150.2 560.7 L1151.2 557 L1152.2 552.2 L1152.6 550 L1153.2 545.3 L1154.2 534.1 L1155.2 519.6 L1156.2 503.3 L1157 490 L1157.2 486.5 L1158.2 467.9 L1159.2 446.8 L1160.2 424"/>
<path class="c" stroke="#f00" stroke-width="7.4" stroke-dasharray="31.41 20.94 4.08 20.94" stroke-dashoffset="25.55" d="M1160.2 424 L1161.2 443.5 L1162.2 463.3 L1163.2 483.4 L1164 500 L1164.2 503.8 L1165.2 527.6 L1166.2 547.3 L1166.4 550 L1167.2 555.8 L1168.2 561.2 L1168.6 564.2 L1169.2 568.9 L1170.1 579 L1171.1 589.5 L1172 597.4 L1172.1 598.5 L1173.1 605.8 L1174.1 612.5 L1174.8 616.8 L1175.1 618.9 L1176.1 624.9 L1177.1 630.8 L1178.1 636.9 L1178.2 637.5 L1179.1 643.5 L1180.1 650.3 L1181.1 657.3 L1182.1 664.1 L1183.1 670.6 L1183.1 670.7 L1184.1 676.5 L1185.1 682 L1186.1 687.9 L1186.5 690.8 L1187.1 694.8 L1188.1 702.6 L1189.1 711 L1190 720 L1190.7 726.1 L1191 729.3 L1192 738.7 L1193 749 L1194 761 L1194.1 762 L1195 776 L1196 795.1 L1196.2 799.2 L1197 821.6 L1197.6 840.7 L1198 854.5 L1199 892"/>
<path class="c" stroke="#f00" stroke-width="7.4" stroke-dasharray="29 19.33 3.77 19.33" stroke-dashoffset="29" d="M1199 892 L1199.7 854.6 L1200 846.3 L1201 826.8 L1201.7 815.8 L1202 811.1 L1203 796.7 L1203.8 785.4 L1204 782.5 L1205 767.1 L1205.2 764.6 L1206 756.9 L1207 749 L1208 743.1 L1208 743 L1209 738.4 L1210 734.2 L1211 730.4 L1212 726.9 L1213 723.7 L1214 720.8 L1215 718.1 L1216 715.6 L1217 713.3 L1218 711.1 L1218.4 710.2 L1219 709.1 L1220 707.2 L1221 705.4 L1222 703.8 L1223 702.3 L1224 700.8 L1225 699.4 L1226 698 L1226.7 697 L1226.9 696.7 L1227.9 695.2 L1228.9 693.8 L1229.9 692.5 L1230.9 691.1 L1231.9 689.8 L1232.9 688.5 L1233.9 687.2 L1234.9 686 L1235.9 684.9 L1236.9 683.9 L1237.9 682.9 L1238.4 682.5 L1238.9 682.1 L1239.9 681.2 L1240.9 680.4 L1241.9 679.6 L1242.9 678.9 L1243.9 678.1 L1244.9 677.4 L1245.9 676.7 L1246.9 676 L1247.9 675.3 L1248.9 674.7 L1249.9 674 L1250.9 673.4 L1251.9 672.8 L1252.9 672.2 L1253.9 671.7 L1254.9 671.1 L1255.9 670.5 L1256.9 670 L1257.9 669.4 L1258.9 668.9 L1259.9 668.4 L1260.9 667.9 L1261.9 667.4 L1262.9 666.8 L1263.9 666.3 L1264.9 665.8 L1265.9 665.3 L1266.9 664.8 L1267.9 664.3 L1268.9 663.8 L1269.9 663.3 L1270.1 663.2 L1270.9 662.8 L1271.9 662.3 L1272.9 661.8 L1273.9 661.3 L1274.9 660.9 L1275.9 660.4 L1276.9 659.9 L1277.9 659.5 L1278.9 659 L1279.8 658.6 L1280.8 658.2 L1281.8 657.7 L1282.8 657.3 L1283.8 656.9 L1284.8 656.5 L1285.8 656 L1286.8 655.6 L1287.8 655.2 L1288.8 654.8 L1289.8 654.4 L1290.8 654 L1291.8 653.6 L1292.8 653.2 L1293.8 652.7 L1294.8 652.3 L1295.8 651.9 L1296.8 651.5 L1297.8 651.1 L1298.8 650.7 L1299.8 650.2 L1300.8 649.8 L1301.8 649.4 L1302.8 649 L1303.4 648.7 L1303.8 648.5 L1304.8 648.1 L1305.8 647.7 L1306.8 647.2 L1307.8 646.8 L1308.8 646.4 L1309.8 646 L1310.8 645.5 L1311.8 645.1 L1312.8 644.7 L1313.8 644.3 L1314.8 643.9 L1315.8 643.5 L1316.8 643 L1317.8 642.6 L1318.8 642.2 L1319.8 641.8 L1320.8 641.4 L1321.8 640.9 L1322.8 640.5 L1323.8 640.1 L1324.8 639.7 L1325.8 639.2 L1326.8 638.8 L1327.8 638.3 L1328.8 637.9 L1329.8 637.4 L1330.8 637 L1331.8 636.5 L1332.8 636 L1333.8 635.5 L1334.7 635 L1335.7 634.5 L1336.7 634 L1337.7 633.5 L1338 633.4 L1338.7 633 L1339.7 632.5 L1340.7 632 L1341.7 631.5 L1342.7 630.9 L1343.7 630.4 L1344.7 629.9 L1345.7 629.3 L1346.7 628.8 L1347.7 628.2 L1348.7 627.7 L1349.7 627.1 L1350.7 626.5 L1351.7 625.9 L1352.7 625.4 L1353.7 624.8 L1354.7 624.1 L1355.7 623.5 L1356.7 622.9 L1357.7 622.2 L1358.7 621.6 L1359.7 620.9 L1360.7 620.2 L1361.7 619.5 L1362.7 618.7 L1363.7 618 L1364.7 617.2 L1365.7 616.5 L1366.7 615.7 L1367 615.4 L1367.7 614.8 L1368.7 614 L1369.7 613.1 L1370.7 612.2 L1371.7 611.2 L1372.7 610.2 L1373.7 609.2 L1374.7 608.1 L1375.7 607.1 L1376.7 605.9 L1377.7 604.7 L1378.7 603.5 L1379.7 602.3 L1380.7 601 L1381.7 599.7 L1382.7 598.3 L1383.7 596.9 L1383.7 596.8 L1384.7 595.4 L1385.7 593.9 L1386.7 592.3 L1387.6 590.7 L1388.6 588.9 L1389.6 587.1 L1390.6 585.2 L1391.6 583.2 L1392.6 581.1 L1393.6 578.9 L1394.6 576.6 L1395.6 574.1 L1396.6 571.5 L1397.5 569.1 L1397.6 568.7 L1398.6 565.6 L1399.6 562 L1400.6 558 L1401.6 553.6 L1402.6 548.8 L1403 546.9 L1403.6 543.4 L1404.6 536.7 L1405.6 529.4 L1406.6 522.4 L1407 520 L1407.6 516.9 L1408.6 513 L1409.6 508.6 L1410.6 501 L1410.7 500 L1411.6 467.4 L1412.5 420 L1412.6 415.3 L1413.6 370.1 L1414.6 324.3"/>
<path class="c" stroke="#f00" stroke-width="7.4" stroke-dasharray="29.73 19.82 3.87 19.82" stroke-dashoffset="53.42" d="M1414.6 324.3 L1415.6 370.5 L1416.5 420 L1416.6 426.3 L1417.6 496.9 L1417.7 500 L1418.6 516.8 L1419.6 528.5 L1420.6 536.8 L1421 540 L1421.6 544.6 L1422.6 550.9 L1423.6 556.8 L1423.8 558 L1424.6 563.1 L1425.6 569.5 L1426.6 575.8 L1427.6 581.9 L1428.6 587.6 L1429.3 591.2 L1429.6 592.7 L1430.6 597.3 L1431.6 601.6 L1432.6 605.7 L1433.5 609.2 L1433.6 609.6 L1434.6 613.3 L1435.6 616.8 L1436.6 620.1 L1437.6 623.5 L1438.6 627.1 L1439 628.6 L1439.6 630.9 L1440.6 635 L1441.6 639.2 L1442.6 643.5 L1443.6 647.9 L1444.6 652.2 L1445.6 656.4 L1446.6 660.5 L1447.3 663.2 L1447.6 664.3 L1448.6 668 L1449.6 671.5 L1450.6 674.9 L1451.6 678.2 L1452.6 681.6 L1452.9 682.6 L1453.6 684.9 L1454.6 687.9 L1455.6 690.8 L1456.6 693.9 L1457.6 697.4 L1458.4 700.6 L1458.6 701.5 L1459.6 707 L1460.6 713.3 L1461.6 719.4 L1461.7 720 L1462.6 724.8 L1463.6 730 L1464.5 734.5 L1464.6 735 L1465.6 739.5 L1466.6 743.7 L1467.6 748.4 L1468.6 754.6 L1469.6 764.9 L1470.6 778.7 L1471.4 789.2 L1471.6 791.5 L1472.6 802.7 L1473.6 813.7 L1474.6 825.5 L1474.8 828 L1475.6 836.9 L1476.6 851.5 L1476.9 858.4 L1477.6 900 L1478.6 1093.4"/>
<path class="c" stroke="#f00" stroke-width="7.4" stroke-dasharray="29.97 19.98 3.9 19.98" stroke-dashoffset="23.07" d="M1478.6 1093.4 L1479.5 900 L1479.6 896.1 L1480.6 870.4 L1481.6 857.5 L1482.4 844.6 L1482.6 839.8 L1483.6 813.5 L1483.8 810 L1484.6 799.6 L1485.6 789.4 L1486.6 781.7 L1487.3 777.4 L1487.6 775.8 L1488.6 770.9 L1489.6 766.9 L1490.6 763.3 L1491.6 760 L1492.6 756.7 L1492.8 756 L1493.6 753.2 L1494.6 749.8 L1495.6 746.4 L1496.6 743.2 L1497.6 740.1 L1498.6 737.2 L1499.6 734.6 L1499.9 733.8 L1500.6 732.2 L1501.6 730 L1502.5 728.3 L1502.6 728.1 L1503.6 726.4 L1504.6 724.7 L1505.6 723.1 L1506.6 721.6 L1507.6 720.1 L1508.6 718.7 L1509.6 717.4 L1510.6 716.1 L1511.6 714.8 L1512.6 713.7 L1513.6 712.5 L1513.8 712.3 L1514.6 711.4 L1515.6 710.4 L1516.6 709.4 L1517.6 708.4 L1518.6 707.4 L1519.6 706.5 L1520.6 705.6 L1521.6 704.7 L1522.6 703.8 L1523.6 703 L1524.6 702.2 L1525.6 701.4 L1526.6 700.6 L1527.6 699.9 L1528.6 699.1 L1529.6 698.4 L1530.4 697.8 L1530.6 697.7 L1531.6 697 L1532.6 696.3 L1533.6 695.6 L1534.6 695 L1535.6 694.4 L1536.6 693.7 L1537.6 693.1 L1538.6 692.6 L1539.6 692 L1540.6 691.4 L1541.6 690.8 L1542.6 690.3 L1543.6 689.7 L1544.6 689.1 L1545.6 688.6 L1546.6 688 L1547.6 687.4 L1548.6 686.8 L1549.6 686.2 L1550 686 L1550.6 685.6 L1551.6 685 L1552.6 684.3 L1553.6 683.7 L1554.6 683.1 L1555.6 682.5 L1556.6 681.9 L1556.9 681.8 L1557.6 681.5 L1558.6 681.1 L1559.6 680.6 L1560.6 680.2 L1561.6 679.8 L1562.6 679.5 L1563.6 679.1 L1564.6 678.8 L1565.6 678.4 L1566.6 678.1 L1567.6 677.8 L1568.6 677.4 L1569.6 677.1 L1570.6 676.8 L1571.6 676.5 L1572.6 676.2 L1573.6 675.9 L1574.6 675.6 L1575.6 675.3 L1576.6 675 L1577.6 674.7 L1578.6 674.4 L1579.1 674.2 L1579.6 674 L1580.6 673.7 L1581.6 673.4 L1582.6 673.1 L1583.6 672.7 L1584.6 672.4 L1585.6 672.1 L1586.6 671.8 L1587.6 671.4 L1588.6 671.1 L1589.6 670.8 L1590.6 670.5 L1591.6 670.1 L1592.6 669.8 L1593.6 669.5 L1594.6 669.2 L1595.6 668.8 L1596.6 668.5 L1597.6 668.2 L1598.6 667.9 L1599.6 667.6 L1600.6 667.3 L1601.6 667 L1602.6 666.7 L1603.6 666.4 L1604.6 666.1 L1605.6 665.8 L1606.6 665.5 L1607.6 665.2 L1608.6 664.9 L1609.6 664.6 L1610.6 664.3 L1611.6 664 L1612.6 663.8 L1613.6 663.5 L1614.6 663.2 L1615.1 663.1 L1615.6 663 L1616.6 662.7 L1617.6 662.5 L1618.6 662.2 L1619.6 662 L1620.6 661.7 L1621.6 661.5 L1622.6 661.3 L1623.6 661 L1624.6 660.8 L1625.6 660.6 L1626.6 660.3 L1627.6 660.1 L1628.6 659.9 L1629.6 659.7 L1630.6 659.4 L1631.6 659.2 L1632.6 659 L1633.6 658.8 L1634.6 658.6 L1635.6 658.4 L1636.6 658.1 L1637.6 657.9 L1638.6 657.7 L1639.6 657.5 L1640.6 657.3 L1641.6 657.1 L1642.6 656.9 L1643.6 656.6 L1644.6 656.4 L1645.6 656.2 L1646.6 656 L1647.6 655.8 L1648.6 655.5 L1649.6 655.3 L1650.6 655.1 L1651.6 654.8 L1651.7 654.8 L1652.6 654.6 L1653.6 654.4 L1654.6 654.1 L1655.6 653.9 L1656.6 653.6 L1657.6 653.4 L1658.6 653.1 L1659.6 652.9 L1660.6 652.6 L1661.6 652.3 L1662.6 652.1 L1663.6 651.8 L1664.6 651.6 L1665.6 651.3 L1666.6 651 L1667.6 650.8 L1668.6 650.5 L1669.6 650.3 L1670.6 650 L1671.6 649.7 L1672.6 649.5 L1673.6 649.2 L1674.6 649 L1675.6 648.7 L1676.6 648.5 L1677.6 648.2 L1678.6 648 L1679.6 647.7 L1680.6 647.5 L1681.6 647.3 L1682.6 647 L1683.6 646.8 L1684.6 646.6 L1685.6 646.4 L1686.6 646.2 L1687.6 646 L1688.4 645.8 L1688.6 645.8 L1689.6 645.6 L1690.6 645.4 L1691.6 645.2 L1692.6 645 L1693.6 644.8 L1694.6 644.7 L1695.6 644.5 L1696.6 644.3 L1697.6 644.2 L1698.6 644 L1699.6 643.8 L1700.6 643.7 L1701.6 643.5 L1702.6 643.4 L1703.6 643.2 L1704.6 643 L1705.6 642.9 L1706.6 642.7 L1707.6 642.6 L1708.6 642.4 L1709.6 642.3 L1710.6 642.1 L1711.6 642 L1712.6 641.8 L1713.6 641.6 L1714.6 641.5 L1715.6 641.3 L1716.6 641.2 L1717.6 641 L1718.6 640.8 L1719.6 640.6 L1720.6 640.5 L1721.6 640.3 L1722.6 640.1 L1723 640 L1723.6 639.9 L1724.6 639.7 L1725.6 639.5 L1726.6 639.3 L1727.6 639.1 L1728.6 638.9 L1729.6 638.7 L1730.6 638.5 L1731.6 638.3 L1732.6 638 L1733.6 637.8 L1734.6 637.6 L1735.6 637.4 L1736.6 637.2 L1737.6 636.9 L1738.6 636.7 L1739.6 636.5 L1740.6 636.3 L1741.6 636 L1742.6 635.8 L1743.6 635.6 L1744.6 635.3 L1745.6 635.1 L1746.5 634.9 L1747.5 634.6 L1748.5 634.4 L1749.5 634.2 L1750.5 633.9 L1751.5 633.7 L1752.5 633.5 L1753.5 633.2 L1754.5 633 L1755.5 632.8 L1756.5 632.5 L1757.5 632.3 L1758.5 632.1 L1759.5 631.8 L1760.5 631.6 L1761.5 631.4 L1761.8 631.3 L1762.5 631.1 L1763.5 630.9 L1764.5 630.7 L1765.5 630.4 L1766.5 630.2 L1767.5 630 L1768.5 629.8 L1769.5 629.5 L1770.5 629.3 L1771.5 629.1 L1772.5 628.8 L1773.5 628.6 L1774.5 628.4 L1775.5 628.2 L1776.5 627.9 L1777.5 627.7 L1778.5 627.5 L1779.5 627.2 L1780.5 627 L1781.5 626.8 L1782.5 626.5 L1783.5 626.3 L1784.5 626.1 L1785.5 625.8 L1786.5 625.6 L1787.5 625.4 L1788.5 625.1 L1789.5 624.9 L1790.5 624.6 L1791.5 624.4 L1792.5 624.2 L1793.5 623.9 L1794.5 623.7 L1795.5 623.4 L1796.5 623.2 L1797.5 622.9 L1798.5 622.7 L1799.5 622.4 L1799.9 622.3 L1800.5 622.1 L1801.5 621.9 L1802.5 621.6 L1803.5 621.3 L1804.5 621.1 L1805.5 620.8 L1806.5 620.5 L1807.5 620.3 L1808.5 620 L1809.5 619.7 L1810.5 619.4 L1811.5 619.1 L1812.5 618.9 L1813.5 618.6 L1814.5 618.3 L1815.5 618 L1816.5 617.7 L1817.5 617.4 L1818.5 617.1 L1819.5 616.9 L1820.5 616.6 L1821.5 616.3 L1822.5 616 L1823.5 615.7 L1824.5 615.4 L1825.5 615.1 L1826.5 614.8 L1827.5 614.5 L1828.5 614.2 L1829.5 613.9 L1830.5 613.6 L1831.5 613.3 L1832.5 613 L1833.5 612.7 L1833.8 612.6 L1834.5 612.4 L1835.5 612.1 L1836.5 611.8 L1837.5 611.5 L1838.5 611.2 L1839.5 610.9 L1840.5 610.6 L1841.5 610.3 L1842.5 610 L1843.5 609.7 L1844.5 609.4 L1845.5 609.1 L1846.5 608.8 L1847.5 608.5 L1848.5 608.1 L1849.5 607.8 L1850.5 607.5 L1851.5 607.2 L1852.5 606.9 L1853.5 606.6 L1854.5 606.3 L1855.5 605.9 L1856.5 605.6 L1857.5 605.3 L1858.5 605 L1859.5 604.6 L1860.5 604.3 L1861.5 603.9 L1862.5 603.6 L1863.5 603.3 L1864.5 602.9 L1865.5 602.5 L1866.5 602.2 L1867.5 601.8 L1868.4 601.5 L1868.5 601.5 L1869.5 601.1 L1870.5 600.7 L1871.5 600.3 L1872.5 599.9 L1873.5 599.5 L1874.5 599.1 L1875.5 598.7 L1876.5 598.2 L1877.5 597.8 L1878.5 597.4 L1879.5 596.9 L1880.5 596.5 L1881.5 596.1 L1882.5 595.6 L1883.5 595.2 L1884.5 594.7 L1885.5 594.2 L1886.5 593.8 L1887.5 593.3 L1887.8 593.2 L1888.5 592.9 L1889.5 592.4 L1890.5 591.9 L1891.5 591.5 L1892.5 591 L1893.5 590.5 L1894.5 590 L1895.5 589.6 L1896.5 589.1 L1897.5 588.6 L1898.5 588.1 L1899.5 587.6 L1900.5 587.1 L1901.5 586.6 L1902.5 586.1 L1903.5 585.6 L1904.5 585.1 L1905.5 584.6 L1906.5 584.1 L1907.5 583.6 L1908.5 583.1 L1909.5 582.5 L1910.5 582 L1911.5 581.5 L1912.5 581 L1913.5 580.5 L1914.5 579.9 L1915.5 579.4 L1916.5 578.9 L1917.4 578.4 L1917.5 578.3 L1918.5 577.8 L1919.5 577.3 L1920.5 576.8 L1921.5 576.2 L1922.5 575.7 L1923.5 575.2 L1924.5 574.7 L1925.5 574.1 L1926.5 573.6 L1927.5 573 L1928.5 572.5 L1929.5 571.9 L1930.5 571.3 L1931.5 570.7 L1932.5 570.1 L1933.5 569.5 L1934.5 568.8 L1934.7 568.7 L1935.5 568.1 L1936.5 567.4 L1937.5 566.7 L1938.5 566 L1939.5 565.2 L1940.5 564.4 L1941.5 563.6 L1942.5 562.7 L1943.5 561.9 L1944.5 561 L1945.5 560.2 L1946.5 559.3 L1947.5 558.4 L1948.5 557.5 L1949.2 556.9 L1949.5 556.6 L1950.5 555.7 L1951.5 554.8 L1952.5 553.8 L1953.5 552.8 L1954.5 551.9 L1955.5 550.9 L1956.5 549.9 L1957.5 548.8 L1958.5 547.8 L1959.5 546.8 L1960.5 545.8 L1961.5 544.8 L1962.3 544 L1962.5 543.8 L1963.5 542.8 L1964.5 541.9 L1965.5 541 L1966.5 540.1 L1967.5 539.2 L1968.5 538.2 L1969.5 537.3 L1970.5 536.3 L1971.5 535.3 L1972.5 534.2 L1973.5 533.1 L1974.5 531.9 L1975.5 530.6 L1975.5 530.6 L1976.5 529.1 L1977.5 527.5 L1978.5 525.7 L1979.5 523.8 L1980.5 521.8 L1981.5 519.7 L1982.5 517.6 L1983.5 515.5 L1984.5 513.4 L1984.8 512.8 L1985.5 511.4 L1986.5 509.4 L1987.5 507.5 L1988.5 505.5 L1989.5 503.6 L1990.5 501.5 L1991.5 499.3 L1992.5 497.1 L1993.5 494.6 L1994.5 492 L1994.5 492 L1995.5 489.1 L1996.5 486 L1997.5 482.6 L1998.5 479 L1999.5 475.2 L2000.5 471.2 L2001.5 467 L2002.4 463.1 L2002.5 462.6 L2003.5 458.1 L2004.5 453.1 L2005.5 447.7 L2006.5 441.5 L2006.6 440.9 L2007.5 434.8 L2008.5 426.7 L2009.4 417.4 L2009.5 416.2 L2010.5 399 L2010.7 395 L2011.5 377.6 L2012.5 352.7 L2013.5 324.1 L2014.5 291.4"/>
<path class="c" stroke="#f00" stroke-width="7.4" stroke-dasharray="28.36 18.9 3.69 18.9" stroke-dashoffset="50.95" d="M2014.5 291.4 L2015.5 318.7 L2016.5 342.8 L2017.5 363.9 L2018.5 382 L2019 390 L2019.5 397 L2020.4 407.7 L2020.5 408.9 L2021.5 420.2 L2022.5 429.8 L2023.5 437.1 L2024.5 443.3 L2025.5 449.1 L2026 452 L2026.5 455 L2027.5 461.1 L2028.5 467.2 L2029.5 473 L2030.5 478.1 L2031.5 482.4 L2032.5 485.9 L2033.5 489.1 L2034.5 491.9 L2035.5 494.5 L2036.5 497 L2037.5 499.4 L2038.4 501.6 L2038.5 501.8 L2039.5 504.3 L2040.5 506.7 L2041.5 509.1 L2042.5 511.3 L2043.5 513.6 L2044.5 515.7 L2045.5 517.8 L2046.4 519.6 L2046.5 519.8 L2047.5 521.8 L2048.5 523.7 L2049.5 525.6 L2050.5 527.5 L2051.5 529.3 L2052.5 531.2 L2053.5 532.9 L2054.5 534.7 L2055.5 536.4 L2056.5 538 L2057.5 539.6 L2058.5 541.2 L2059.5 542.7 L2060.5 544.2 L2061.5 545.6 L2061.9 546.1 L2062.5 546.9 L2063.5 548.2 L2064.5 549.4 L2065.5 550.6 L2066.5 551.7 L2067.5 552.8 L2068.5 553.9 L2069.5 555 L2070.5 556 L2071.5 557 L2072.5 558.1 L2073.5 559.1 L2074.5 560.1 L2075.5 561.2 L2075.8 561.5 L2076.5 562.2 L2077.5 563.3 L2078.5 564.4 L2079.5 565.5 L2080.5 566.5 L2081.5 567.6 L2082.5 568.6 L2083.5 569.7 L2084.5 570.7 L2085.5 571.7 L2086.5 572.7 L2087.5 573.7 L2088.5 574.6 L2089.5 575.5 L2090.4 576.3 L2090.5 576.4 L2091.5 577.2 L2092.5 578 L2093.5 578.7 L2094.5 579.5 L2095.5 580.2 L2096.5 580.9 L2097.5 581.6 L2098.5 582.4 L2099.5 583.1 L2100 583.5 L2100.5 583.9 L2101.5 584.7 L2102.5 585.5 L2103.5 586.3 L2104.5 587.2 L2105.5 588 L2106.5 588.8 L2107.5 589.7 L2108.5 590.5 L2109.5 591.4 L2110.5 592.2 L2111.5 593.1 L2112.5 593.9 L2113.5 594.8 L2114.5 595.6 L2115.5 596.5 L2116.5 597.3 L2116.6 597.4 L2117.5 598.1 L2118.5 599 L2119.5 599.8 L2120.5 600.5 L2121.5 601.3 L2122.5 602.1 L2123.5 602.9 L2124.5 603.7 L2125.5 604.5 L2126.5 605.3 L2127.5 606.1 L2128.5 606.9 L2129.5 607.8 L2130.5 608.7 L2131.5 609.6 L2132.5 610.5 L2133.2 611.2 L2133.5 611.5 L2134.5 612.4 L2135.5 613.3 L2136.5 614.1 L2137.5 615 L2138.5 615.8 L2139.5 616.7 L2140.5 617.7 L2141.5 618.7 L2142.5 619.8 L2143.5 621 L2144.5 622.3 L2145.5 623.8 L2146.5 625.5 L2147.5 627.3 L2148.4 629.2 L2148.5 629.4 L2149.5 632.9 L2150.5 637.9 L2151.5 643.7 L2152.5 649.5 L2152.6 650 L2153.5 654.3 L2154.5 659.1 L2155.5 665.5 L2156 670 L2156.5 677.6 L2157.5 702"/>
<path class="c" stroke="#f00" stroke-width="7.4" stroke-dasharray="34.14 22.76 4.44 22.76" stroke-dashoffset="22.99" d="M2157.5 702 L2158.4 663.2 L2159 640 L2159.3 629.9 L2160.2 600 L2161.1 554.8 L2162 495.5"/>
<path class="c" stroke="#f00" stroke-width="7.4" stroke-dasharray="32.12 21.41 4.18 21.41" stroke-dashoffset="57.71" d="M2162 495.5 L2163 546.5 L2163.8 570.7 L2164 573.3 L2165 583.6 L2166 590.6 L2167 595.3 L2167.5 597.2 L2168 598.9 L2169 602 L2170 604.6 L2171 606.9 L2172 608.9 L2173 610.5 L2174 611.9 L2174.7 612.8 L2175 613.1 L2176 614.2 L2177 615.2 L2178 616.1 L2179 616.9 L2180 617.6 L2181 618.3 L2182 618.9 L2183 619.6 L2184 620.2 L2185 620.8 L2186 621.4 L2187 622.1 L2188 622.8 L2188.7 623.3 L2189 623.5 L2190 624.3 L2191 625.2 L2192 626 L2193 626.9 L2194 627.7 L2195 628.6 L2196 629.4 L2197 630.3 L2198 631.1 L2199 631.9 L2200 632.6 L2201 633.3 L2202 634 L2202.4 634.2 L2203 634.5 L2204 635.1 L2205 635.6 L2206 636.2 L2207 636.6 L2208 637.1 L2209 637.6 L2210 638 L2211 638.5 L2212 638.9 L2213 639.3 L2214 639.7 L2215 640.1 L2216 640.5 L2217 641 L2218 641.4 L2219 641.8 L2220 642.3 L2221 642.7 L2221.8 643.1 L2222 643.2 L2223 643.7 L2224 644.2 L2225 644.7 L2226 645.2 L2227 645.7 L2228 646.2 L2229 646.7 L2230 647.3 L2231 647.8 L2232 648.3 L2233 648.8 L2234 649.3 L2235 649.8 L2236 650.3 L2237 650.8 L2238 651.3 L2239 651.7 L2239.8 652.1 L2240 652.2 L2241 652.6 L2242 653.1 L2243 653.5 L2244 653.9 L2245 654.3 L2246 654.7 L2247 655.1 L2248 655.5 L2249 655.9 L2250 656.3 L2251 656.7 L2252 657.1 L2253 657.4 L2254 657.8 L2255 658.2 L2256 658.6 L2257 658.9 L2258 659.3 L2259 659.7 L2260 660 L2261 660.4 L2262 660.8 L2263 661.2 L2264 661.5 L2265 661.9 L2266 662.3 L2267 662.7 L2268 663.1 L2269 663.5 L2270 663.9 L2271 664.3 L2271.6 664.5 L2272 664.7 L2273 665.1 L2274 665.5 L2275 665.9 L2276 666.3 L2277 666.7 L2278 667.2 L2279 667.6 L2280 668 L2281 668.4 L2282 668.9 L2283 669.3 L2284 669.7 L2285 670.1 L2286 670.6 L2287 671 L2288 671.4 L2289 671.8 L2289.6 672.1 L2290 672.3 L2291 672.7 L2292 673.1 L2293 673.5 L2294 674 L2295 674.4 L2296 674.8 L2297 675.3 L2298 675.7 L2299 676.1 L2300 676.5 L2301 677 L2302 677.4 L2303 677.8 L2304 678.3 L2305 678.7 L2306 679.1 L2307 679.5 L2308 680 L2309 680.4 L2310 680.8 L2311 681.3 L2312 681.7 L2313 682.1 L2314 682.6 L2315 683 L2316 683.4 L2317 683.9 L2318 684.3 L2319 684.7 L2320 685.2 L2321 685.6 L2322 686 L2323 686.5 L2324 686.9 L2325 687.3 L2326 687.8 L2327 688.2 L2328 688.6 L2329 689.1 L2330 689.5 L2331 689.9 L2332 690.4 L2333 690.8 L2334 691.2 L2335 691.7 L2336 692.1 L2337 692.5 L2338 693 L2339 693.4 L2339.5 693.6 L2340 693.8 L2341 694.2 L2342 694.7 L2343 695.1 L2344 695.5 L2345 695.9 L2346 696.3 L2347 696.7 L2348 697.1 L2349 697.5 L2350 697.9 L2351 698.4 L2352 698.8 L2353 699.2 L2354 699.6 L2355 700.1 L2356 700.5 L2357 701 L2357.5 701.2 L2358 701.4 L2359 701.9 L2360 702.4 L2361 702.8 L2362 703.3 L2363 703.8 L2364 704.3 L2365 704.8 L2366 705.3 L2367 705.8 L2368 706.3 L2369 706.8 L2370 707.4 L2371 707.9 L2372 708.4 L2373 708.9 L2374 709.4 L2375 710 L2376 710.5 L2376.8 710.9 L2377 711 L2378 711.5 L2379 712.1 L2380 712.6 L2381 713.1 L2382 713.7 L2383 714.2 L2384 714.8 L2385 715.3 L2386 715.9 L2387 716.4 L2388 717 L2389 717.5 L2390 718.1 L2391 718.7 L2392 719.2 L2393 719.7 L2394 720.3"/>
<path class="c" stroke="#00f" stroke-width="7.8" stroke-dasharray="3.33 31.02" stroke-dashoffset="32" d="M257 608.3 L258 608.3 L259 608.3 L260 608.3 L261 608.2 L262 608.2 L262.9 608.1 L263.9 608 L264.9 608 L265.9 607.9 L266.9 607.8 L267.9 607.7 L268.9 607.6 L269.9 607.5 L270.9 607.4 L271.9 607.2 L272.9 607.1 L273.5 607 L273.8 606.9 L274.8 606.7 L275.8 606.4 L276.8 606.1 L277.8 605.6 L278.8 605.1 L279.8 604.5 L280.8 603.8 L281.8 603.1 L282.8 602.4 L283.8 601.5 L284.7 600.7 L285.7 599.7 L286.7 598.8 L287.4 598.1 L287.7 597.8 L288.7 596.5 L289.7 594.8 L290.7 593 L291.7 590.9 L292.7 588.7 L293.7 586.3 L294.7 584 L295.6 581.6 L295.7 581.5 L296.6 579.3 L297.6 576.8 L298.6 574.2 L299.6 571.4 L300.6 568.3 L301.2 566.3 L301.6 564.9 L302.6 561.4 L303.6 557.3 L304.6 552.3 L305.4 546.9 L305.6 545.7 L306.5 534.3 L307.5 520 L307.5 519.4 L308.5 503.6 L309.5 483.2 L310 470 L310.5 449.2 L311.5 389"/>
<path class="c" stroke="#00f" stroke-width="7.8" stroke-dasharray="3.29 30.71" stroke-dashoffset="3.29" d="M311.5 389 L312.5 415.6 L313.5 463.3 L313.6 470 L314.3 523 L314.5 531.1 L315.1 553.8 L315.5 560.6 L316.4 575.2 L317.4 585.6 L318.4 594.6 L318.5 595.4 L319.4 603.2 L320.4 610.5 L321.4 617.8 L322 623 L322.4 626.5 L323.4 636.7 L324.3 647.8 L325.3 658.7 L325.9 664.6 L326.3 668.7 L327.3 678 L328.3 687 L329.3 696.2 L329.6 699.2 L330.3 705.2 L331.3 713.4 L332.2 723.3 L333 733.8 L333.2 738.3 L334.2 768.7 L335 800 L335.2 809.4 L336.2 864"/>
<path class="c" stroke="#00f" stroke-width="7.8" stroke-dasharray="3.48 32.48" stroke-dashoffset="3.48" d="M336.2 864 L337.2 846.5 L338.2 826.1 L338.6 817 L339.2 801.2 L340.2 771.8 L340.7 761.5 L341.2 755.8 L342.2 746.2 L343.2 739.1 L344.1 733.8 L344.2 733.5 L345.1 728.7 L346.1 724.6 L347.1 721 L348.1 717.8 L349.1 714.7 L349.7 713 L350.1 711.8 L351.1 709.1 L352.1 706.5 L353.1 704.1 L354.1 701.8 L355.1 699.5 L355.2 699.2 L356.1 697.1 L357.1 694.6 L358.1 692.3 L359.1 690 L360.1 687.9 L360.7 686.7 L361 686.1 L362 684.3 L363 682.6 L364 680.9 L365 679.3 L366 677.9 L367 676.7 L368 675.7 L369 675 L369 675 L370 674.5 L371 674.1 L372 673.7 L373 673.4 L374 673.1 L375 672.8 L376 672.6 L376.9 672.3 L377.9 672.1 L378.9 671.8 L379.9 671.5 L380.9 671.2 L381.5 671 L381.9 670.8 L382.9 670.4 L383.9 670 L384.9 669.5 L385.9 669 L386.9 668.5 L387.9 668 L388.9 667.5 L389.9 667 L390.9 666.5 L391.9 666 L392.9 665.5 L393.8 665.1 L394.8 664.8 L395.3 664.6 L395.8 664.4 L396.8 664.1 L397.8 663.9 L398.8 663.6 L399.8 663.4 L400.8 663.2 L401.8 663 L402.8 662.7 L403.8 662.5 L404.8 662.3 L405.8 662 L406.4 661.8 L406.8 661.7 L407.8 661.4 L408.8 661.1 L409.7 660.7 L410.7 660.4 L411.7 660 L412.7 659.6 L413.7 659.2 L414.7 658.7 L415.7 658.2 L416.1 658 L416.7 657.7 L417.7 657.1 L418.7 656.4 L419.7 655.7 L420.7 654.9 L421.7 654.1 L422.7 653.2 L423.7 652.3 L424.7 651.2 L425.6 650.2 L426.6 649 L427.6 647.8 L428.6 646.6 L428.6 646.6 L429.6 645.1 L430.6 643.3 L431.6 641.3 L432.6 639.1 L433.6 636.9 L434.6 634.7 L435.5 632.7 L435.6 632.5 L436.6 630.5 L437.6 628.6 L438.6 626.7 L439.6 624.7 L440.6 622.5 L441.5 620 L442.4 617.5 L442.5 617 L443.5 613.5 L444.5 609.1 L445.5 603.4 L445.9 600.9 L446.5 595.7 L447.5 584.3 L448.5 569.7 L449.5 553"/>
<path class="c" stroke="#00f" stroke-width="7.8" stroke-dasharray="3.51 32.69" stroke-dashoffset="3.51" d="M449.5 553 L450.5 555.2 L451.5 561.8 L452.1 567.7 L452.5 580.4 L453.5 636.9 L454.5 669.6 L455.5 702.1 L455.6 706.1 L456.5 753.5 L456.8 770 L457.5 806"/>
<path class="c" stroke="#00f" stroke-width="7.8" stroke-dasharray="3.36 31.28" stroke-dashoffset="3.36" d="M457.5 806 L458.5 789.5 L459 780 L459.5 769.1 L460.4 748 L460.5 745.9 L461.5 723.8 L461.8 720 L462.5 715.1 L463.5 709.9 L464.5 706.2 L465.5 703.2 L465.9 702 L466.5 700.3 L467.5 697.8 L468.5 695.6 L469.5 693.6 L470.1 692.3 L470.5 691.5 L471.5 689.3 L472.5 687.1 L473.5 684.9 L474.5 682.7 L475.5 680.8 L476.5 679.2 L477.5 677.8 L478.4 677 L478.5 676.9 L479.5 676.3 L480.5 675.7 L481.5 675.2 L482.5 674.8 L483.5 674.3 L484.5 674 L485.5 673.6 L486.5 673.3 L487.5 673 L488.5 672.7 L489.5 672.4 L490.5 672.1 L491.5 671.8 L492.2 671.5 L492.5 671.4 L493.5 671 L494.5 670.7 L495.5 670.3 L496.5 670 L497.5 669.6 L498.4 669.3 L499.4 668.9 L500.4 668.6 L501.4 668.2 L502.4 667.9 L503.4 667.6 L504.4 667.2 L505.4 666.9 L506.4 666.6 L507.4 666.3 L508.4 666 L509.4 665.7 L510.4 665.4 L511.4 665.1 L512.4 664.8 L513 664.6 L513.4 664.5 L514.4 664.2 L515.4 663.9 L516.4 663.6 L517.4 663.3 L518.4 663 L519.4 662.7 L520.4 662.4 L521.4 662.1 L522.4 661.8 L523.4 661.4 L524.4 661.2 L525.4 660.9 L526.4 660.6 L527.4 660.3 L528.4 660 L529.4 659.8 L530.4 659.5 L531.4 659.3 L532.4 659 L533.4 658.8 L534.4 658.6 L535.4 658.4 L536.4 658.2 L537.4 658.1 L538.4 657.9 L539.4 657.8 L540.4 657.7 L540.7 657.7 L541.4 657.6 L542.4 657.6 L543.4 657.5 L544.4 657.4 L545.4 657.4 L546.4 657.3 L547.4 657.3 L548.4 657.2 L549.4 657.2 L550.4 657.2 L551.4 657.1 L552.4 657.1 L553.4 657.1 L554.4 657 L555.4 657 L556.4 657 L557.4 656.9 L558.4 656.9 L559.4 656.8 L560.4 656.8 L561.4 656.8 L562.4 656.7 L563.4 656.7 L564.4 656.6 L565.4 656.5 L566.4 656.5 L567.4 656.4 L568.4 656.3 L568.4 656.3 L569.4 656.2 L570.4 656 L571.4 655.9 L572.4 655.7 L573.4 655.4 L574.4 655.2 L575.4 654.9 L576.4 654.7 L577.4 654.5 L578.4 654.3 L579.4 654.1 L580 654 L580.4 654 L581.3 653.8 L582.3 653.7 L583.3 653.6 L584.3 653.5 L585.3 653.4 L586.3 653.3 L587.3 653.2 L588.3 653.1 L589.3 653 L590.3 653 L591.3 652.9 L592.3 652.8 L593.3 652.7 L594.3 652.7 L595.3 652.6 L596.3 652.5 L597.3 652.4 L598.3 652.3 L599.3 652.2 L600.3 652.1 L601.3 652 L602.3 651.9 L603.3 651.8 L604.3 651.7 L605.3 651.6 L606.3 651.4 L607.3 651.3 L607.7 651.2 L608.3 651.1 L609.3 650.9 L610.3 650.6 L611.3 650.3 L612.3 650 L613.3 649.6 L614.3 649.2 L615.3 648.8 L616.3 648.4 L617.3 647.9 L618.3 647.5 L619.3 647 L620.3 646.5 L621.3 646 L622.3 645.6 L623.3 645.1 L624.3 644.6 L625.3 644.2 L626.3 643.7 L627.3 643.3 L628.3 642.9 L628.4 642.9 L629.3 642.6 L630.3 642.2 L631.3 641.9 L632.3 641.5 L633.3 641.2 L634.3 640.9 L635.3 640.6 L636.3 640.3 L637.3 640 L638.3 639.7 L639.3 639.4 L640.3 639.1 L641.3 638.8 L642.3 638.5 L643.3 638.2 L644.3 637.9 L645.3 637.6 L646.3 637.2 L647.3 636.9 L648.3 636.5 L649.3 636.2 L650.3 635.8 L651.3 635.4 L652.3 635 L653.3 634.6 L654.3 634.1 L655.3 633.6 L656.1 633.2 L656.3 633.1 L657.3 632.6 L658.3 632 L659.3 631.3 L660.3 630.7 L661.3 629.9 L662.2 629.2 L663.2 628.3 L664.2 627.5 L665.2 626.6 L666.2 625.7 L667.2 624.8 L668.2 623.8 L669.2 622.9 L670 622.1 L670.2 621.9 L671.2 620.8 L672.2 619.8 L673.2 618.7 L674.2 617.5 L675.2 616.3 L676.2 615 L677.2 613.7 L678.2 612.3 L679.2 610.8 L680.2 609.2 L681.2 607.6 L682.2 605.8 L682.4 605.5 L683.2 603.9 L684.2 601.7 L685.2 599.4 L686.2 596.8 L687.2 594 L688.2 591.1 L689.2 588.1 L689.4 587.5 L690.2 585 L691.2 581.7 L692.2 578.2 L693.2 574.1 L694.2 569.5 L694.2 569.4 L695.2 563.8 L696.2 557 L697.2 548.9 L698.2 539.6 L698.4 537.7 L699.2 529.5 L700.2 514.3 L700.4 510 L701.2 464.8 L701.5 450 L702.2 427.7 L703.2 409.7"/>
<path class="c" stroke="#00f" stroke-width="7.8" stroke-dasharray="3.38 31.5" stroke-dashoffset="3.38" d="M703.2 409.7 L704.2 452.5 L705.2 487.9 L706 510 L706.2 513.2 L707.1 530.2 L708.1 543.8 L708.7 551.5 L709.1 557 L710.1 569.8 L711.1 581.5 L711.5 586.1 L712.1 591.7 L713 600.9 L714 609.5 L715 617.5 L715.4 620.7 L716 625.3 L717 632.7 L718 639.7 L718.9 646.6 L719.9 653.4 L720.2 655.3 L720.9 660.1 L721.9 666.6 L722.9 673.1 L723.9 679.5 L724.8 686.1 L725.4 690 L725.8 693 L726.8 700.2 L727.8 707.6 L728.1 710 L728.8 715.5 L729.8 723.8 L730.2 727.7 L730.7 732.6 L731.7 741.4 L732.7 751.1 L733.7 762.3 L733.7 762.3 L734.7 776.4 L735.7 793.4 L735.7 794.1 L736.6 812.4 L737.1 824.6 L737.6 846.6 L738.6 911.1 L739.6 1000.8"/>
<path class="c" stroke="#00f" stroke-width="7.8" stroke-dasharray="3.37 31.38" stroke-dashoffset="3.37" d="M739.6 1000.8 L740.6 859.3 L740.6 859.2 L741.6 832.6 L742 824.6 L742.6 810.2 L743.6 788.4 L744 783 L744.6 777.8 L745.6 771.2 L746.6 766.2 L747.6 761.9 L748.6 757.1 L748.9 755.4 L749.6 751.1 L750.6 744.4 L751.6 739.2 L751.7 738.8 L752.6 736 L753.6 733.4 L754.6 731.2 L755.6 729.3 L756.6 727.5 L757.6 725.6 L758.6 723.6 L758.6 723.5 L759.6 721.2 L760.6 718.6 L761.6 716 L762.6 713.7 L763.6 711.8 L764.1 711 L764.6 710.4 L765.6 709.3 L766.6 708.4 L767.6 707.5 L768.6 706.8 L769.6 706 L770.6 705.4 L771.6 704.6 L772.6 703.9 L773.6 703 L773.8 702.8 L774.6 702.1 L775.6 701 L776.6 699.9 L777.6 698.7 L778.6 697.6 L779.5 696.5 L780.5 695.5 L781.5 694.6 L782.1 694.1 L782.5 693.8 L783.5 693 L784.5 692.2 L785.5 691.5 L786.5 690.8 L787.5 690.1 L788.5 689.4 L789.5 688.7 L790.5 688.1 L791.5 687.5 L792.5 686.9 L793.5 686.4 L794.5 685.9 L795.5 685.5 L796.5 685.1 L797.5 684.7 L798.5 684.4 L798.7 684.4 L799.5 684.2 L800.5 684 L801.5 683.7 L802.5 683.6 L803.5 683.4 L804.5 683.2 L805.5 683.1 L806.5 682.9 L807.5 682.8 L808.5 682.6 L809.5 682.5 L810.5 682.3 L811.5 682.2 L812.5 682.1 L813.5 681.9 L814.5 681.7 L815.3 681.6 L815.5 681.6 L816.5 681.4 L817.5 681.2 L818.5 681 L819.5 680.8 L820.5 680.6 L821.5 680.4 L822.5 680.2 L823.5 680 L824.5 679.7 L825.5 679.5 L826.5 679.3 L827.5 679.1 L828.5 678.9 L829.5 678.7 L830.5 678.5 L831.5 678.3 L832.5 678.1 L833.5 677.9 L834.5 677.8 L835.5 677.6 L836.1 677.5 L836.5 677.4 L837.5 677.3 L838.5 677.1 L839.5 677 L840.5 676.8 L841.5 676.7 L842.5 676.6 L843.5 676.4 L844.5 676.3 L845.5 676.2 L846.5 676.1 L847.5 675.9 L848.5 675.8 L849.5 675.7 L850.5 675.6 L851.5 675.4 L852.5 675.3 L853.5 675.2 L854.5 675 L855.5 674.9 L856.5 674.8 L856.9 674.7 L857.4 674.6 L858.4 674.5 L859.4 674.3 L860.4 674.2 L861.4 674 L862.4 673.9 L863.4 673.7 L864.4 673.6 L865.4 673.4 L866.4 673.3 L867.4 673.1 L868.4 672.9 L869.4 672.8 L870.4 672.6 L871.4 672.5 L872.4 672.3 L873.4 672.2 L874.4 672 L875.4 671.9 L876.4 671.7 L877.4 671.6 L878.4 671.4 L879.4 671.3 L880.4 671.1 L881.4 671 L882.4 670.9 L883.4 670.7 L884.4 670.6 L884.6 670.6 L885.4 670.5 L886.4 670.4 L887.4 670.3 L888.4 670.2 L889.4 670.1 L890.4 670 L891.4 669.9 L892.4 669.8 L893.4 669.7 L894.4 669.6 L895.4 669.5 L896.4 669.4 L897.4 669.3 L898.4 669.2 L899.4 669.1 L900 669 L900.4 669 L901.4 668.8 L902.4 668.7 L903.4 668.6 L904.4 668.5 L905.4 668.4 L906.4 668.3 L907.4 668.2 L908.4 668 L909.4 667.9 L910.4 667.8 L911.4 667.7 L912.4 667.6 L913.4 667.4 L914.4 667.3 L915.4 667.2 L916.4 667.1 L917.4 667 L918.4 666.9 L919.4 666.8 L920.4 666.6 L920.8 666.6 L921.4 666.5 L922.4 666.4 L923.4 666.3 L924.4 666.2 L925.4 666.1 L926.4 666 L927.4 665.9 L928.4 665.8 L929.4 665.7 L930.4 665.6 L931.4 665.5 L932.4 665.4 L933.4 665.3 L934.4 665.2 L935.3 665.1 L936.3 665 L937.3 664.9 L938.3 664.8 L939.3 664.7 L940.3 664.6 L941.3 664.5 L942.3 664.4 L943.3 664.3 L944.3 664.2 L945.3 664.1 L946.3 664 L947.3 663.9 L948.3 663.8 L949.3 663.7 L950.3 663.6 L951.3 663.5 L952.3 663.4 L953.3 663.3 L954.3 663.2 L955.3 663.1 L955.4 663.1 L956.3 663 L957.3 662.9 L958.3 662.8 L959.3 662.7 L960.3 662.5 L961.3 662.4 L962.3 662.3 L963.3 662.2 L964.3 662.1 L965.3 662 L966.3 661.8 L967.3 661.7 L968.3 661.6 L969.3 661.5 L970.3 661.3 L971.3 661.2 L972.3 661.1 L973.3 661 L974.3 660.9 L975.3 660.7 L976.3 660.6 L977.3 660.5 L978.3 660.4 L979.3 660.2 L980.3 660.1 L981.3 660 L982.3 659.9 L983.3 659.8 L984.3 659.6 L985.3 659.5 L986.3 659.4 L987.3 659.3 L988.3 659.2 L989.3 659.1 L990 659 L990.3 659 L991.3 658.9 L992.3 658.8 L993.3 658.7 L994.3 658.5 L995.3 658.4 L996.3 658.3 L997.3 658.2 L998.3 658.1 L999.3 658.1 L1000.3 658 L1001.3 657.9 L1002.3 657.8 L1003.3 657.7 L1004.3 657.6 L1005.3 657.5 L1006.3 657.4 L1007.3 657.3 L1008.3 657.2 L1009.3 657.1 L1010.3 657 L1011.3 656.9 L1012.3 656.8 L1013.2 656.7 L1014.2 656.6 L1015.2 656.5 L1016.2 656.4 L1017.2 656.3 L1018.2 656.2 L1019.2 656.1 L1020.2 656 L1021.2 655.9 L1022.2 655.8 L1023.2 655.7 L1024.2 655.5 L1024.6 655.5 L1025.2 655.4 L1026.2 655.3 L1027.2 655.2 L1028.2 655.1 L1029.2 654.9 L1030.2 654.8 L1031.2 654.7 L1032.2 654.6 L1033.2 654.4 L1034.2 654.3 L1035.2 654.2 L1036.2 654 L1037.2 653.9 L1038.2 653.8 L1039.2 653.6 L1040.2 653.5 L1041.2 653.3 L1042.2 653.2 L1043.2 653.1 L1044.2 652.9 L1045.2 652.8 L1046.2 652.6 L1047.2 652.5 L1048.2 652.3 L1049.2 652.2 L1050.2 652 L1051.2 651.9 L1052.2 651.7 L1053.2 651.6 L1054.2 651.4 L1055.2 651.3 L1056.2 651.1 L1057.2 651 L1058.2 650.9 L1059.2 650.7 L1059.2 650.7 L1060.2 650.6 L1061.2 650.4 L1062.2 650.3 L1063.2 650.1 L1064.2 650 L1065.2 649.8 L1066.2 649.7 L1067.2 649.5 L1068.2 649.4 L1069.2 649.2 L1070.2 649.1 L1071.2 648.9 L1072.2 648.8 L1073.2 648.6 L1074.2 648.5 L1075.2 648.3 L1076.2 648.1 L1077.2 648 L1078.2 647.8 L1079.2 647.7 L1080.2 647.5 L1081.2 647.3 L1082.2 647.2 L1083.2 647 L1084.2 646.8 L1085.2 646.7 L1086.2 646.5 L1087.2 646.3 L1088.2 646.1 L1089.2 646 L1090.2 645.8 L1091.1 645.6 L1092.1 645.4 L1093.1 645.2 L1093.8 645.1 L1094.1 645 L1095.1 644.8 L1096.1 644.6 L1097.1 644.4 L1098.1 644.2 L1099.1 644 L1100.1 643.8 L1101.1 643.6 L1102.1 643.4 L1103.1 643.2 L1104.1 643 L1105.1 642.8 L1106.1 642.5 L1107.1 642.3 L1108.1 642.1 L1109.1 641.9 L1110.1 641.6 L1111.1 641.4 L1112.1 641.1 L1113.1 640.9 L1114.1 640.7 L1115.1 640.4 L1116.1 640.2 L1117.1 639.9 L1118.1 639.6 L1119.1 639.4 L1120.1 639.1 L1121.1 638.9 L1122.1 638.6 L1123.1 638.3 L1124.1 638 L1125.1 637.8 L1126.1 637.5 L1127.1 637.2 L1128.1 636.9 L1128.4 636.8 L1129.1 636.6 L1130.1 636.3 L1131.1 636 L1132.1 635.7 L1133.1 635.4 L1134.1 635 L1135.1 634.7 L1136.1 634.4 L1137.1 634 L1138.1 633.7 L1139.1 633.3 L1140.1 633 L1141.1 632.6 L1142.1 632.2 L1143.1 631.8 L1144.1 631.4 L1145.1 631 L1146.1 630.6 L1147.1 630.2 L1148.1 629.7 L1149.1 629.3 L1149.2 629.2 L1150.1 628.8 L1151.1 628.3 L1152.1 627.8 L1153.1 627.3 L1154.1 626.7 L1155.1 626.2 L1156.1 625.6 L1157.1 625 L1158.1 624.4 L1159.1 623.7 L1160.1 623.1 L1161.1 622.3 L1162.1 621.6 L1163 620.9 L1163.1 620.9 L1164.1 620 L1165.1 619.2 L1166.1 618.2 L1167.1 617.2 L1168.1 616.1 L1169 615 L1170 613.9 L1171 612.8 L1172 611.6 L1173 610.4 L1174 609.2 L1175 607.9 L1176 606.7 L1176.9 605.7 L1177 605.5 L1178 604.4 L1179 603.2 L1180 602 L1181 600.8 L1182 599.6 L1183 598.3 L1184 596.9 L1185 595.5 L1186 594 L1186.5 593.2 L1187 592.3 L1188 590.5 L1189 588.6 L1190 586.6 L1191 584.3 L1192 581.9 L1193 579.3 L1193.5 578 L1194 576.5 L1195 573.3 L1196 569.6 L1197 565.5 L1197.6 562.8 L1198 560.8 L1199 555.3 L1199.7 550 L1200 546.3 L1201 525.2 L1202 499.3 L1203 480 L1203 479.9 L1204 467.8 L1205 456.7 L1206 447.5 L1207 441 L1208 438.3"/>
<path class="c" stroke="#00f" stroke-width="7.8" stroke-dasharray="3.44 32.08" stroke-dashoffset="3.44" d="M1208 438.3 L1209 450.9 L1210 468.6 L1210.5 480 L1210.9 491.8 L1211.9 526.8 L1212.8 550 L1212.9 551.2 L1213.9 560.4 L1214.2 562.8 L1214.8 567.1 L1215.8 572.6 L1216.8 578.2 L1217 579.4 L1217.8 584.7 L1218.8 591.8 L1219.7 599.1 L1220.7 606.4 L1221.7 613.3 L1221.8 614 L1222.7 619.7 L1223.6 625.8 L1224.6 631.8 L1225.6 637.7 L1226.6 643.6 L1227.4 648.6 L1227.6 649.6 L1228.5 655.7 L1229.5 661.7 L1230.5 667.8 L1231.5 673.9 L1232.5 680.2 L1232.9 683.2 L1233.4 686.7 L1234.4 692.9 L1235.4 699.2 L1236.4 706 L1237.3 713.8 L1237.8 717.8 L1238.3 723 L1239.3 734.6 L1239.7 740 L1240.3 749.1 L1241.2 764.6 L1241.3 765.4 L1242.2 777.1 L1243.2 788 L1244 799.2 L1244.2 802.6 L1245.2 826.5 L1246.1 854.3 L1246.7 868.4 L1247.1 877.8 L1248.1 897.7"/>
<path class="c" stroke="#00f" stroke-width="7.8" stroke-dasharray="3.33 31.03" stroke-dashoffset="3.33" d="M1248.1 897.7 L1249.1 841.9 L1249.5 826.9 L1250.1 811.3 L1251.1 792.3 L1251.6 785.4 L1252.1 779.9 L1253.1 770.7 L1254.1 763.3 L1255 757.7 L1255.1 757.3 L1256.1 752 L1257.1 747.5 L1258.1 743.5 L1259.1 739.7 L1259.5 738 L1260.1 735.8 L1261.1 732.1 L1262.1 728.5 L1263.1 725.2 L1263.9 722.7 L1264.1 722.3 L1265 719.7 L1266 717.2 L1267 714.9 L1268 712.8 L1269 710.8 L1270 709 L1270.1 708.9 L1271 707.4 L1272 705.8 L1273 704.4 L1274 703 L1275 701.7 L1276 700.5 L1277 699.3 L1278 698 L1279 696.7 L1279.8 695.7 L1280 695.4 L1281 694 L1282 692.6 L1283 691.1 L1284 689.6 L1285 688.2 L1286 686.8 L1287 685.6 L1288 684.4 L1289 683.4 L1289.5 683 L1290 682.6 L1291 681.9 L1292 681.2 L1293 680.6 L1294 680 L1295 679.4 L1296 678.8 L1296.9 678.3 L1297.9 677.8 L1298.9 677.3 L1299.9 676.9 L1300.9 676.4 L1301.9 676 L1302.9 675.6 L1303.9 675.1 L1304.9 674.7 L1305.9 674.3 L1306.9 673.9 L1307.5 673.6 L1307.9 673.4 L1308.9 673 L1309.9 672.6 L1310.9 672.2 L1311.9 671.8 L1312.9 671.4 L1313.9 671 L1314.9 670.6 L1315.9 670.3 L1316.9 669.9 L1317.9 669.5 L1318.9 669.2 L1319.9 668.8 L1320.9 668.4 L1321.9 668.1 L1322.9 667.7 L1323.9 667.3 L1324.9 666.9 L1325.9 666.5 L1326.9 666 L1326.9 666 L1327.9 665.6 L1328.9 665.1 L1329.8 664.6 L1330.8 664.1 L1331.8 663.6 L1332.8 663 L1333.8 662.5 L1334.8 662 L1335.8 661.4 L1336.8 660.9 L1337.8 660.4 L1338.8 659.9 L1339.8 659.4 L1340.7 659 L1340.8 658.9 L1341.8 658.5 L1342.8 658.1 L1343.8 657.6 L1344.8 657.2 L1345.8 656.8 L1346.8 656.4 L1347.8 656 L1348.8 655.6 L1349.8 655.2 L1350.8 654.8 L1351.8 654.4 L1352.8 654 L1353.8 653.7 L1354.8 653.3 L1355.8 652.9 L1356.8 652.5 L1357.8 652.2 L1358.8 651.8 L1359.8 651.4 L1360.8 651 L1361.7 650.6 L1362.7 650.3 L1363.7 649.9 L1364.7 649.5 L1365.7 649.1 L1366.7 648.7 L1367.7 648.3 L1368.4 648 L1368.7 647.9 L1369.7 647.4 L1370.7 647 L1371.7 646.6 L1372.7 646.2 L1373.7 645.7 L1374.7 645.3 L1375.7 644.9 L1376.7 644.4 L1377.7 644 L1378.7 643.6 L1379.7 643.1 L1380.7 642.7 L1381.7 642.3 L1382.7 641.8 L1383.7 641.4 L1384.7 641 L1385.7 640.5 L1386.7 640.1 L1387.7 639.7 L1388.7 639.2 L1389.2 639 L1389.7 638.8 L1390.7 638.4 L1391.7 638 L1392.7 637.6 L1393.6 637.2 L1394.6 636.8 L1395.6 636.4 L1396.6 636.1 L1397.6 635.7 L1398.6 635.3 L1399.6 634.9 L1400.6 634.4 L1401.6 634 L1402.6 633.6 L1403.6 633.1 L1404.6 632.6 L1405.6 632.1 L1405.8 632 L1406.6 631.6 L1407.6 631 L1408.6 630.4 L1409.6 629.8 L1410.6 629.1 L1411.6 628.5 L1412.6 627.8 L1413.6 627.1 L1414.6 626.3 L1415.6 625.6 L1416.6 624.8 L1417.6 624 L1418.6 623.3 L1419.6 622.4 L1420.6 621.6 L1421.6 620.8 L1422.6 620 L1423.6 619.1 L1423.8 618.9 L1424.6 618.2 L1425.6 617.4 L1426.5 616.5 L1427.5 615.5 L1428.5 614.6 L1429.5 613.6 L1430.5 612.5 L1431.5 611.5 L1432.5 610.3 L1433.5 609.2 L1433.5 609.2 L1434.5 607.9 L1435.5 606.5 L1436.5 605 L1437.5 603.4 L1438.5 601.8 L1439.5 600.2 L1440.5 598.7 L1441.5 597.2 L1441.8 596.8 L1442.5 595.9 L1443.5 594.6 L1444.5 593.5 L1445.5 592.4 L1446.5 591.3 L1447.5 590.2 L1448.5 589 L1449.5 587.6 L1450.5 586.1 L1451.5 584.4 L1451.5 584.3 L1452.5 582.2 L1453.5 579.4 L1454.5 576.2 L1455.5 572.9 L1456.5 569.5 L1457 567.7 L1457.5 566.3 L1458.4 563.2 L1459.4 560.2 L1460.4 556.9 L1461.4 553.3 L1462.4 549.1 L1462.6 548.3 L1463.4 544.2 L1464.4 538.6 L1465.4 532.2 L1466.4 524.7 L1467.4 515.9 L1468.4 505.6 L1468.9 500 L1469.4 492.8 L1470.4 473.8 L1471.4 449 L1472.4 419.6 L1473.4 386.8 L1474.4 351.7"/>
<path class="c" stroke="#00f" stroke-width="7.8" stroke-dasharray="3.31 30.85" stroke-dashoffset="3.31" d="M1474.4 351.7 L1475.4 418.9 L1476.4 472.9 L1477.2 500 L1477.4 503.7 L1478.4 521 L1479.4 533.5 L1480.4 542.4 L1480.6 544.2 L1481.3 548.8 L1482.3 553.5 L1483.3 557.5 L1484.3 561.7 L1484.7 563.5 L1485.3 566.9 L1486.3 572.7 L1487.3 578.8 L1488.3 584.9 L1489.3 590.7 L1490.2 595.4 L1490.3 595.8 L1491.3 600.4 L1492.3 604.7 L1493.3 608.8 L1494.3 612.8 L1495.2 616.6 L1496.2 620.3 L1497.2 624 L1498.2 627.7 L1499.2 631.4 L1499.2 631.5 L1500.2 635.2 L1501.2 639 L1502.2 642.6 L1503.2 646.3 L1504.2 649.9 L1505.2 653.5 L1506.2 657.1 L1507.2 660.8 L1508.2 664.4 L1508.2 664.6 L1509.1 668.1 L1510.1 671.9 L1511.1 675.6 L1512.1 679.3 L1513.1 682.9 L1513.8 685.4 L1514.1 686.5 L1515.1 689.9 L1516.1 693.1 L1517.1 696.4 L1518.1 700 L1518.6 702 L1519.1 704 L1520.1 708.4 L1521.1 713.2 L1522.1 717.9 L1522.5 720 L1523 722.4 L1524 726.6 L1525 730.8 L1526 735.5 L1526.5 738 L1527 741 L1528 747.5 L1529 754.8 L1530 762.6 L1531 770.5 L1531.6 775.4 L1532 778.3 L1533 785.7 L1534 793.3 L1535 802.1 L1535.7 810 L1536 813 L1536.9 827.9 L1537.8 844.6 L1537.9 847.6 L1538.9 876.3 L1539.2 886.1 L1539.9 920 L1539.9 920.5 L1540.9 941.2 L1541.9 955.1 L1542.9 960.1"/>
<path class="c" stroke="#00f" stroke-width="7.8" stroke-dasharray="3.44 32.1" stroke-dashoffset="3.44" d="M1542.9 960.1 L1543.9 882.6 L1544.7 844.6 L1544.9 839.1 L1545.9 819.8 L1546.1 816.9 L1546.9 807.3 L1547.9 797.7 L1548.9 789.3 L1548.9 789.2 L1549.9 780.7 L1550.9 772.7 L1551.9 766.2 L1552.3 764.3 L1552.9 762.1 L1553.9 758.8 L1554.9 756 L1555.9 753.6 L1556.9 751.4 L1557.9 749.4 L1558.6 748 L1558.9 747.5 L1559.9 745.6 L1560.9 743.8 L1561.9 742.2 L1562.9 740.7 L1563.9 739.2 L1564.9 737.7 L1565.9 736.3 L1566.9 734.8 L1567.9 733.2 L1568 733 L1568.9 731.6 L1569.9 729.9 L1570.9 728.2 L1571.9 726.5 L1572.9 724.9 L1573.9 723.4 L1574.8 722.1 L1574.9 722 L1575.8 720.8 L1576.8 719.7 L1577.8 718.5 L1578.8 717.5 L1579.8 716.4 L1580.8 715.4 L1581.8 714.5 L1582.8 713.5 L1583.8 712.6 L1584.8 711.7 L1585.8 710.8 L1586.8 709.9 L1587.8 709 L1588.8 708.1 L1588.8 708.1 L1589.8 707.2 L1590.8 706.2 L1591.8 705.3 L1592.8 704.3 L1593.8 703.4 L1594.8 702.5 L1595.8 701.6 L1596.8 700.7 L1597.8 699.9 L1598.8 699.1 L1599.8 698.3 L1600.8 697.6 L1601.8 696.9 L1602.6 696.4 L1602.8 696.3 L1603.8 695.7 L1604.8 695.1 L1605.8 694.6 L1606.8 694.1 L1607.8 693.6 L1608.8 693.1 L1609.8 692.7 L1610.8 692.3 L1611.8 691.8 L1612.8 691.4 L1613.8 691 L1614.8 690.6 L1615.8 690.2 L1616.8 689.7 L1617.8 689.3 L1618.8 688.9 L1619.2 688.7 L1619.8 688.4 L1620.8 688 L1621.8 687.6 L1622.8 687.2 L1623.8 686.7 L1624.8 686.3 L1625.8 685.9 L1626.8 685.5 L1627.8 685.1 L1628.8 684.6 L1629.8 684.2 L1630.8 683.8 L1631.8 683.4 L1632.8 683 L1633.8 682.6 L1634.8 682.2 L1635.8 681.8 L1635.8 681.8 L1636.8 681.4 L1637.7 681 L1638.7 680.6 L1639.7 680.2 L1640.7 679.8 L1641.7 679.3 L1642.7 678.9 L1643.7 678.5 L1644.7 678.1 L1645.7 677.7 L1646.7 677.3 L1647.7 676.9 L1648.7 676.5 L1649.7 676.2 L1650.7 675.8 L1651.7 675.5 L1652.7 675.2 L1653.7 674.9 L1653.8 674.9 L1654.7 674.7 L1655.7 674.4 L1656.7 674.2 L1657.7 674 L1658.7 673.7 L1659.7 673.5 L1660.7 673.3 L1661.7 673.1 L1662.7 673 L1663.7 672.8 L1664.7 672.6 L1665.7 672.4 L1666.7 672.2 L1667.7 672 L1668.7 671.8 L1669.7 671.6 L1670.4 671.4 L1670.7 671.3 L1671.7 671.1 L1672.7 670.8 L1673.7 670.6 L1674.7 670.3 L1675.7 670.1 L1676.7 669.8 L1677.7 669.5 L1678.7 669.2 L1679.7 668.9 L1680.7 668.7 L1681.7 668.4 L1682.7 668.1 L1683.7 667.8 L1684.7 667.6 L1685.7 667.3 L1686.7 667 L1687.7 666.8 L1688.4 666.6 L1688.7 666.5 L1689.7 666.3 L1690.7 666.1 L1691.7 665.8 L1692.7 665.6 L1693.7 665.4 L1694.7 665.2 L1695.7 665 L1696.7 664.7 L1697.7 664.5 L1698.7 664.3 L1699.6 664.1 L1700.6 663.8 L1701.6 663.6 L1702.6 663.4 L1703.6 663.1 L1703.7 663.1 L1704.6 662.9 L1705.6 662.6 L1706.6 662.3 L1707.6 662 L1708.6 661.7 L1709.6 661.4 L1710.6 661 L1711.6 660.7 L1712.6 660.4 L1713.6 660.1 L1714.6 659.8 L1715.6 659.5 L1716.6 659.1 L1717.6 658.9 L1718.6 658.6 L1719.6 658.3 L1720.6 658 L1721.6 657.8 L1722.6 657.6 L1723 657.5 L1723.6 657.4 L1724.6 657.2 L1725.6 657 L1726.6 656.8 L1727.6 656.7 L1728.6 656.5 L1729.6 656.4 L1730.6 656.2 L1731.6 656.1 L1732.6 655.9 L1733.6 655.8 L1734.6 655.6 L1735.5 655.5 L1735.6 655.5 L1736.6 655.3 L1737.6 655.2 L1738.6 655 L1739.6 654.9 L1740.6 654.7 L1741.6 654.6 L1742.6 654.4 L1743.6 654.3 L1744.6 654.1 L1745.6 654 L1746.6 653.9 L1747.6 653.7 L1748.6 653.5 L1749.6 653.4 L1750.6 653.2 L1751.6 653 L1752.6 652.9 L1753.5 652.7 L1753.6 652.7 L1754.6 652.5 L1755.6 652.3 L1756.6 652.1 L1757.6 651.9 L1758.6 651.6 L1759.6 651.4 L1760.6 651.1 L1761.6 650.9 L1762.5 650.7 L1763.5 650.4 L1764.5 650.2 L1765.5 649.9 L1766.5 649.7 L1767.5 649.4 L1768.5 649.2 L1769.5 649 L1770.5 648.8 L1771.5 648.6 L1771.5 648.6 L1772.5 648.4 L1773.5 648.2 L1774.5 648 L1775.5 647.9 L1776.5 647.7 L1777.5 647.6 L1778.5 647.4 L1779.5 647.2 L1780.5 647.1 L1781.5 646.9 L1782.5 646.8 L1783.5 646.6 L1784.5 646.4 L1785.5 646.3 L1786.5 646.1 L1787.5 645.9 L1788.1 645.8 L1788.5 645.7 L1789.5 645.5 L1790.5 645.3 L1791.5 645.1 L1792.5 644.8 L1793.5 644.6 L1794.5 644.3 L1795.5 644.1 L1796.5 643.8 L1797.5 643.6 L1798.5 643.3 L1799.5 643.1 L1800.5 642.8 L1801.5 642.6 L1802.5 642.4 L1803.5 642.2 L1804.5 642 L1805.5 641.8 L1806.1 641.7 L1806.5 641.6 L1807.5 641.5 L1808.5 641.3 L1809.5 641.2 L1810.5 641.1 L1811.5 641 L1812.5 640.9 L1813.5 640.8 L1814.5 640.6 L1815.5 640.5 L1816.5 640.4 L1817.5 640.3 L1818.5 640.2 L1819.5 640.1 L1820.5 639.9 L1821.5 639.8 L1822.5 639.6 L1822.7 639.6 L1823.5 639.5 L1824.5 639.3 L1825.4 639.1 L1826.4 638.9 L1827.4 638.7 L1828.4 638.5 L1829.4 638.2 L1830.4 638 L1831.4 637.8 L1832.4 637.5 L1833.4 637.3 L1834.4 637 L1835.4 636.8 L1836.4 636.5 L1837.4 636.2 L1838.4 636 L1839.4 635.7 L1840.4 635.5 L1840.7 635.4 L1841.4 635.2 L1842.4 635 L1843.4 634.7 L1844.4 634.4 L1845.4 634.1 L1846.4 633.8 L1847.4 633.5 L1848.4 633.2 L1849.4 632.9 L1850.4 632.7 L1851.4 632.4 L1852.4 632.1 L1853.4 631.9 L1854.4 631.6 L1855.4 631.4 L1855.9 631.3 L1856.4 631.2 L1857.4 631 L1858.4 630.8 L1859.4 630.6 L1860.4 630.5 L1861.4 630.3 L1862.4 630.1 L1863.4 630 L1864.4 629.8 L1865.4 629.7 L1866.4 629.5 L1867.4 629.4 L1868.4 629.2 L1869.4 629.1 L1870.4 628.9 L1871.4 628.7 L1872.4 628.5 L1872.5 628.5 L1873.4 628.3 L1874.4 628.1 L1875.4 627.9 L1876.4 627.7 L1877.4 627.5 L1878.4 627.3 L1879.4 627.1 L1880.4 626.9 L1881.4 626.6 L1882.4 626.4 L1883.4 626.2 L1884.4 626 L1885 625.8 L1885.4 625.7 L1886.4 625.5 L1887.4 625.2 L1888.3 625 L1889.3 624.7 L1890.3 624.5 L1891.3 624.2 L1892.3 623.9 L1893.3 623.7 L1894.3 623.4 L1895.3 623.1 L1896.3 622.8 L1897.3 622.6 L1898.3 622.3 L1899.3 622 L1900.3 621.7 L1901.3 621.4 L1902.3 621.1 L1903.3 620.9 L1904.3 620.6 L1905.3 620.3 L1906.3 620 L1907.3 619.7 L1908.3 619.4 L1909.3 619.1 L1910.3 618.8 L1911.3 618.5 L1912.3 618.2 L1913.3 617.9 L1914.3 617.6 L1915.3 617.3 L1916 617.1 L1916.3 617 L1917.3 616.7 L1918.3 616.4 L1919.3 616.1 L1920.3 615.8 L1921.3 615.5 L1922.3 615.2 L1923.3 614.9 L1924.3 614.6 L1925.3 614.3 L1926.3 614 L1927.3 613.7 L1928.3 613.4 L1929.3 613.1 L1930.3 612.8 L1931.3 612.5 L1932.3 612.2 L1933.3 611.9 L1934.3 611.6 L1935.3 611.3 L1936.3 611 L1937.3 610.7 L1938.3 610.3 L1939.3 610 L1940.3 609.7 L1941.3 609.4 L1942.3 609 L1943.3 608.7 L1944.3 608.4 L1945.3 608.1 L1946.3 607.7 L1947.3 607.4 L1948.3 607 L1949.2 606.7 L1949.3 606.7 L1950.3 606.3 L1951.2 606 L1952.2 605.6 L1953.2 605.3 L1954.2 604.9 L1955.2 604.5 L1956.2 604.2 L1957.2 603.8 L1958.2 603.4 L1959.2 603.1 L1960.2 602.7 L1961.2 602.3 L1962.2 601.9 L1963.2 601.5 L1964.2 601.2 L1965.2 600.8 L1966.2 600.4 L1967.2 600 L1968.2 599.6 L1969.2 599.2 L1970.2 598.8 L1971.2 598.4 L1972.2 598 L1973.2 597.5 L1974.2 597.1 L1975.2 596.7 L1976.2 596.3 L1977.2 595.9 L1978.2 595.4 L1979.2 595 L1980.2 594.6 L1981.2 594.1 L1982.2 593.7 L1982.4 593.6 L1983.2 593.2 L1984.2 592.8 L1985.2 592.4 L1986.2 591.9 L1987.2 591.4 L1988.2 591 L1989.2 590.5 L1990.2 590.1 L1991.2 589.6 L1992.2 589.1 L1993.2 588.6 L1994.2 588.2 L1995.2 587.7 L1996.2 587.2 L1997.2 586.7 L1998.2 586.2 L1999.2 585.7 L2000.2 585.2 L2001.2 584.7 L2002.2 584.2 L2003.2 583.6 L2004.2 583.1 L2005.2 582.6 L2006.2 582 L2007.2 581.5 L2008.2 580.9 L2009.2 580.3 L2010.2 579.8 L2011.2 579.2 L2011.5 579 L2012.2 578.6 L2013.1 578 L2014.1 577.4 L2015.1 576.8 L2016.1 576.2 L2017.1 575.6 L2018.1 575 L2019.1 574.3 L2020.1 573.7 L2021.1 573.1 L2022.1 572.4 L2023.1 571.7 L2024.1 571.1 L2025.1 570.4 L2026.1 569.7 L2027.1 569 L2028.1 568.3 L2029.1 567.6 L2030.1 566.8 L2031.1 566.1 L2032.1 565.4 L2033.1 564.6 L2034.1 563.8 L2035.1 563 L2036.1 562.2 L2037.1 561.4 L2038.1 560.6 L2039.1 559.8 L2039.2 559.7 L2040.1 558.9 L2041.1 558 L2042.1 557.1 L2043.1 556.2 L2044.1 555.2 L2045.1 554.2 L2046.1 553.2 L2047.1 552.1 L2048.1 551.1 L2049.1 550 L2050.1 548.9 L2051.1 547.9 L2052.1 546.8 L2053 545.8 L2053.1 545.7 L2054.1 544.7 L2055.1 543.6 L2056.1 542.6 L2057.1 541.6 L2058.1 540.6 L2059.1 539.6 L2060.1 538.5 L2061.1 537.4 L2062.1 536.2 L2063.1 534.9 L2064.1 533.6 L2065.1 532.2 L2065.5 531.5 L2066.1 530.6 L2067.1 528.6 L2068.1 526.4 L2069.1 524.1 L2070.1 521.6 L2071.1 519.1 L2072.1 516.7 L2073.1 514.5 L2073.8 513 L2074.1 512.5 L2075.1 510.8 L2076 509.3 L2077 507.9 L2078 506.5 L2079 505 L2080 503.4 L2081 501.7 L2082 499.6 L2082.1 499.5 L2083 497.1 L2084 493.8 L2085 490.3 L2086 486.6 L2087 483.2 L2087.6 481.5 L2088 480.3 L2089 477.9 L2090 475.7 L2091 473.6 L2092 471.3 L2093 468.5 L2093.9 465.5 L2094 465 L2095 459.8 L2096 453.1 L2096.6 449.2 L2097 446.6 L2098 440.3 L2099 432.6 L2099.3 429.8 L2100 419.4 L2100.7 407.7 L2101 403.1 L2102 388.4 L2102.1 386.9 L2103 371.4 L2104 353.2 L2105 333.6 L2106 312.5 L2107 289.7"/>
<path class="c" stroke="#00f" stroke-width="7.8" stroke-dasharray="3.42 31.92" stroke-dashoffset="3.42" d="M2107 289.7 L2108 349.8 L2109 386.8 L2109 386.9 L2110 403.3 L2110.4 407.7 L2111 412.9 L2112 419.4 L2113 425.1 L2113.9 431.2 L2114 431.9 L2115 441.2 L2115.9 449.2 L2116 449.8 L2117 456.1 L2118 461.6 L2118.7 465.8 L2119 467.6 L2120 474.9 L2121 481.4 L2121.5 483.8 L2122 485.4 L2123 488.2 L2124 490.5 L2125 492.4 L2126 494.1 L2127 495.9 L2128 498 L2128.4 499 L2129 500.5 L2130 503.3 L2131 506.2 L2132 509.1 L2133 511.9 L2133.9 514.3 L2134 514.5 L2135 516.7 L2136 518.8 L2137 520.9 L2138 522.8 L2139 524.7 L2140 526.6 L2141 528.5 L2142 530.4 L2142.2 530.9 L2143 532.4 L2144 534.6 L2144.9 536.7 L2145.9 538.9 L2146.9 540.9 L2147.9 542.7 L2148.9 544.3 L2149.2 544.7 L2149.9 545.7 L2150.9 547 L2151.9 548.1 L2152.9 549.3 L2153.9 550.3 L2154.9 551.3 L2155.9 552.2 L2156.9 553.2 L2157.9 554.1 L2158.9 554.9 L2159.9 555.8 L2160.9 556.7 L2161.9 557.6 L2162.9 558.5 L2163 558.6 L2163.9 559.5 L2164.9 560.4 L2165.9 561.3 L2166.9 562.2 L2167.9 563 L2168.9 563.9 L2169.9 564.8 L2170.9 565.6 L2171.9 566.5 L2172.9 567.4 L2173.9 568.3 L2174.9 569.2 L2175.9 570.1 L2176.8 571 L2176.9 571.1 L2177.9 572.1 L2178.9 573.2 L2179.9 574.2 L2180.9 575.3 L2181.9 576.5 L2182.9 577.6 L2183.9 578.7 L2184.9 579.8 L2185.9 580.8 L2186.9 581.9 L2187.9 582.8 L2188.6 583.5 L2188.9 583.8 L2189.9 584.6 L2190.9 585.5 L2191.9 586.4 L2192.9 587.2 L2193.9 588 L2194.9 588.8 L2195.9 589.6 L2196.9 590.4 L2197.9 591.2 L2198.9 591.9 L2199.9 592.6 L2200.9 593.4 L2201.9 594.1 L2202.9 594.8 L2203.9 595.5 L2204.9 596.2 L2205.9 596.9 L2206.6 597.4 L2206.9 597.6 L2207.9 598.2 L2208.9 598.8 L2209.9 599.4 L2210.9 600 L2211.9 600.5 L2212.9 601.1 L2213.9 601.7 L2214.9 602.3 L2215.9 602.9 L2216.9 603.6 L2217.7 604.3 L2217.9 604.4 L2218.9 605.3 L2219.9 606.4 L2220.8 607.6 L2221.8 608.8 L2222.8 610.1 L2223.8 611.4 L2224.8 612.6 L2225.8 613.8 L2226.8 614.9 L2227.4 615.4 L2227.8 615.8 L2228.8 616.6 L2229.8 617.4 L2230.8 618.1 L2231.8 618.8 L2232.8 619.4 L2233.8 620.1 L2234.8 620.8 L2235.8 621.5 L2236.8 622.3 L2237.8 623.2 L2238.4 623.7 L2238.8 624.1 L2239.8 625.1 L2240.8 626.1 L2241.8 627.3 L2242.8 628.7 L2243.8 630.3 L2244 630.6 L2244.8 632.3 L2245.8 635.1 L2246.8 638.4 L2247.8 642 L2248.1 643.1 L2248.8 645.8 L2249.8 650.1 L2250.8 656.2 L2250.9 656.9 L2251.8 670.1 L2252.3 677.7 L2252.8 684 L2253.8 696 L2254.8 707.1 L2255.8 717.3 L2256.8 726.1 L2257.8 733.3"/>
<path class="c" stroke="#00f" stroke-width="7.8" stroke-dasharray="3.5 32.59" stroke-dashoffset="3.5" d="M2257.8 733.3 L2258.8 688.2 L2259.7 643.1 L2260.7 598 L2261.6 552.9"/>
<path class="c" stroke="#00f" stroke-width="7.8" stroke-dasharray="3.4 31.7" stroke-dashoffset="3.4" d="M2261.6 552.9 L2262.6 582.5 L2263.3 594.6 L2263.6 596.4 L2264.6 601.6 L2265.6 605.4 L2266.6 608.1 L2267.6 610.2 L2268.6 612 L2268.9 612.6 L2269.6 613.8 L2270.6 615.3 L2271.6 616.7 L2272.6 617.9 L2273.5 619 L2274.5 620.1 L2275.5 621.2 L2275.8 621.5 L2276.5 622.3 L2277.5 623.5 L2278.5 624.6 L2279.5 625.7 L2280.5 626.7 L2281.5 627.7 L2282.5 628.6 L2283.5 629.5 L2284.1 630 L2284.5 630.3 L2285.5 631.1 L2286.5 631.8 L2287.5 632.5 L2288.5 633.1 L2289.5 633.7 L2290.5 634.3 L2291.5 634.9 L2292.5 635.4 L2293.5 635.9 L2293.8 636.1 L2294.5 636.4 L2295.4 636.8 L2296.4 637.2 L2297.4 637.6 L2298.4 638 L2299.4 638.3 L2300.4 638.7 L2301.4 639 L2302.4 639.4 L2303.4 639.7 L2304.4 640.1 L2304.9 640.3 L2305.4 640.5 L2306.4 640.9 L2307.4 641.3 L2308.4 641.8 L2309.4 642.2 L2310.4 642.6 L2311.4 643.1 L2312.4 643.5 L2313.4 644 L2314.4 644.4 L2315.4 644.9 L2316.4 645.4 L2317.3 645.8 L2317.3 645.8 L2318.3 646.3 L2319.3 646.8 L2320.3 647.3 L2321.3 647.9 L2322.3 648.4 L2323.3 648.9 L2324.3 649.4 L2325.3 649.9 L2326.3 650.4 L2327.3 650.9 L2328.3 651.4 L2328.4 651.4 L2329.3 651.8 L2330.3 652.2 L2331.3 652.5 L2332.3 652.9 L2333.3 653.3 L2334.3 653.6 L2335.3 654 L2336.3 654.3 L2337.3 654.7 L2338.3 655 L2339.2 655.4 L2339.5 655.5 L2340.2 655.8 L2341.2 656.2 L2342.2 656.6 L2343.2 657 L2344.2 657.4 L2345.2 657.8 L2346.2 658.2 L2347.2 658.6 L2348.2 659 L2349.2 659.4 L2350.2 659.8 L2351.2 660.2 L2352.2 660.6 L2353.2 661 L2353.3 661 L2354.2 661.3 L2355.2 661.7 L2356.2 662.1 L2357.2 662.5 L2358.2 662.9 L2359.2 663.3 L2360.2 663.7 L2361.1 664 L2362.1 664.4 L2363.1 664.8 L2364.1 665.2 L2365.1 665.5 L2366.1 665.9 L2367.1 666.3 L2368.1 666.7 L2369.1 667 L2369.9 667.3 L2370.1 667.4 L2371.1 667.7 L2372.1 668.1 L2373.1 668.4 L2374.1 668.8 L2375.1 669.1 L2376.1 669.5 L2377.1 669.8 L2378.1 670.1 L2379.1 670.5 L2380.1 670.8 L2381.1 671.2 L2382.1 671.5 L2383 671.8 L2383.8 672.1 L2384 672.2 L2385 672.5 L2386 672.9 L2387 673.2 L2388 673.6 L2389 673.9 L2390 674.3 L2391 674.6 L2392 675 L2393 675.3 L2394 675.7"/>
</g>
<g class="lg" shape-rendering="crispEdges">
<rect x="337" y="84" width="591" height="243" fill="#fff" stroke="#000" stroke-width="10" shape-rendering="crispEdges"/>
<path class="c" stroke="#000" d="M346 127.6H488.5"/>
<path class="c" stroke="#f00" stroke-width="7.4" stroke-dasharray="30 20 3.9 20" d="M346 205.4H488.5"/>
<path class="c" stroke="#00f" stroke-width="7.8" stroke-dasharray="3.4 31.7" d="M346.2 284.1H488.2"/>
<text x="505.5" y="149.4">Target value</text>
<text x="505.5" y="226.9">Before updating</text>
<text x="505.5" y="305">After updating</text>
</g>
</svg>
</body>
</html>
